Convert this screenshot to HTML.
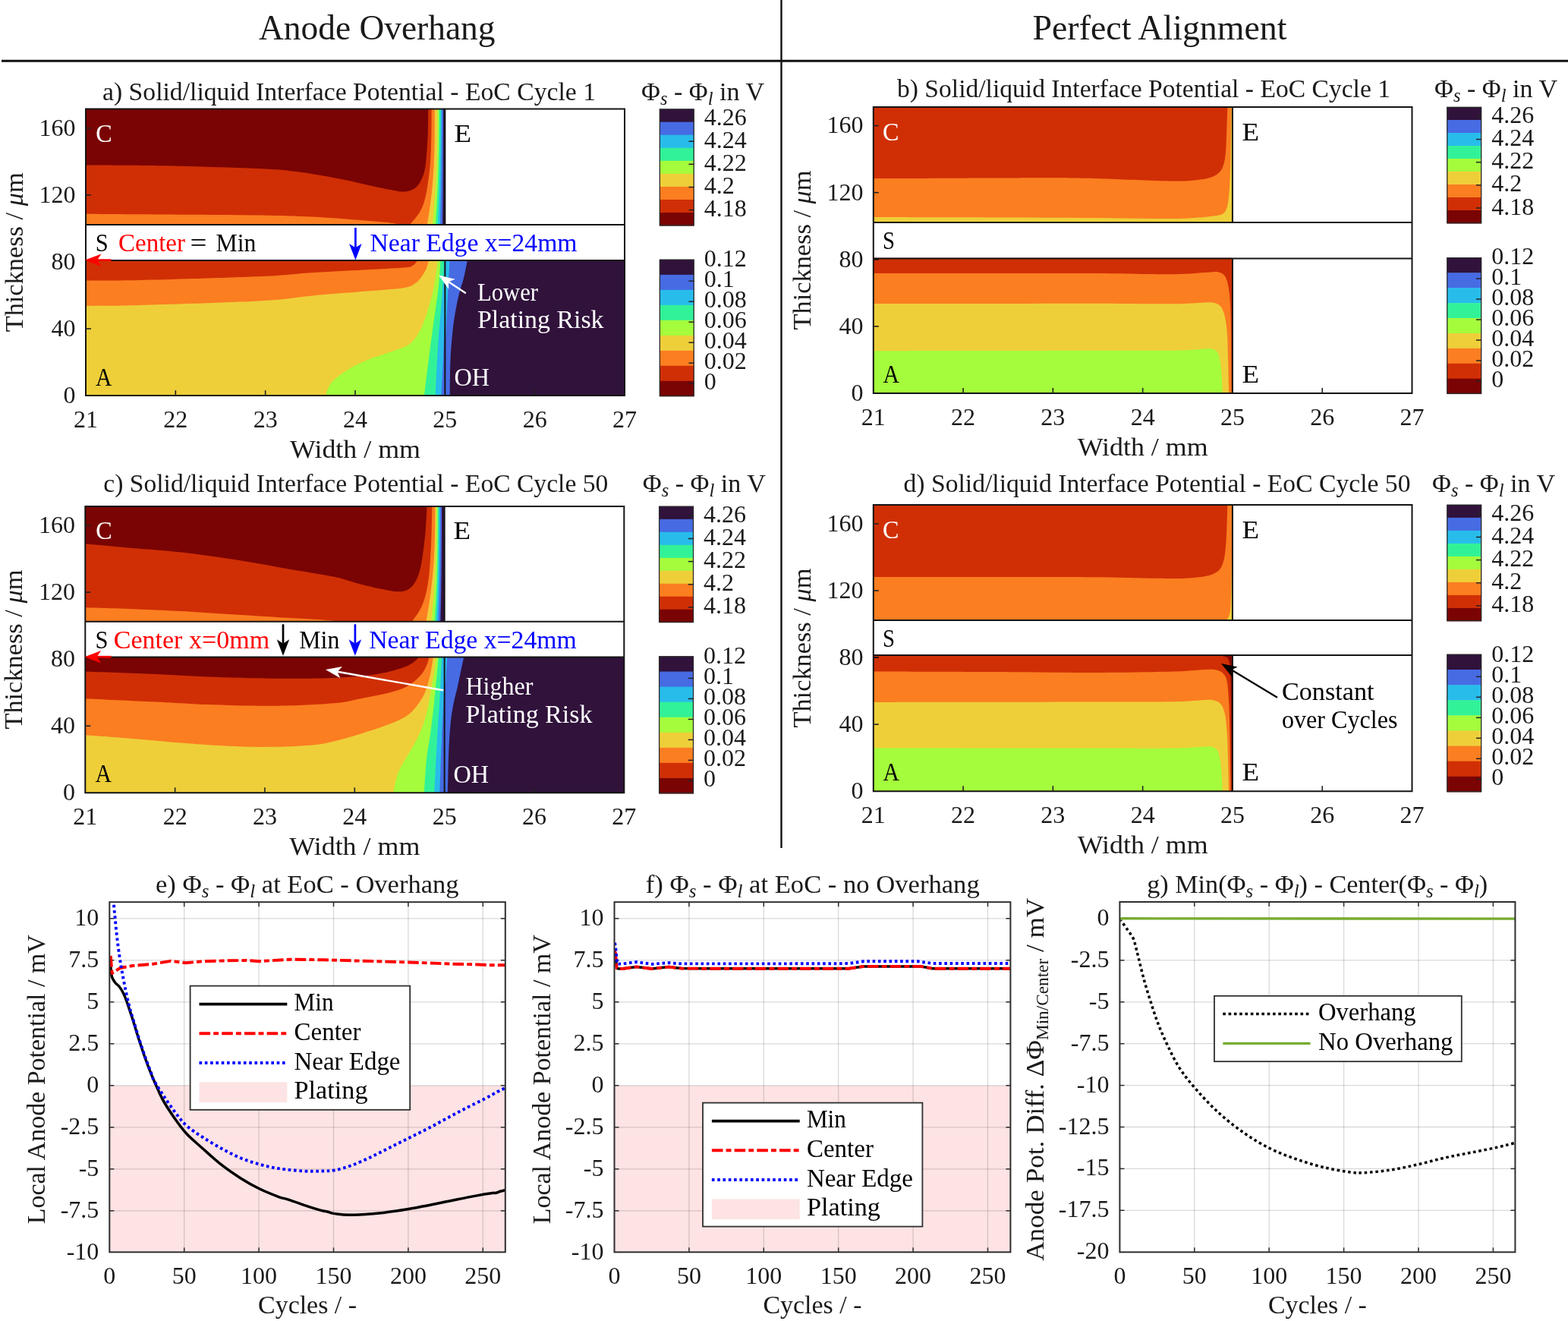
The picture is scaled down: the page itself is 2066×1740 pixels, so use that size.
<!DOCTYPE html>
<html lang="en"><head><meta charset="utf-8"><title>Anode Overhang vs Perfect Alignment</title>
<style>
html,body{margin:0;padding:0;background:#fff;}
body{width:2066px;height:1740px;overflow:hidden;}
svg{display:block;font-family:"Liberation Serif","DejaVu Serif",serif;}
text{white-space:pre;}
</style></head><body>
<svg width="2066" height="1740" viewBox="0 0 2066 1740">
<rect width="2066" height="1740" fill="#ffffff"/>
<text x="341" y="52" font-size="46" textLength="311.5" lengthAdjust="spacingAndGlyphs" fill="#1a1a1a">Anode Overhang</text>
<text x="1360.5" y="52" font-size="46" textLength="335" lengthAdjust="spacingAndGlyphs" fill="#1a1a1a">Perfect Alignment</text>
<line x1="2" y1="80.3" x2="2066" y2="80.3" stroke="#111" stroke-width="3.0"/>
<line x1="1029.5" y1="0" x2="1029.5" y2="1117" stroke="#111" stroke-width="2.4"/>
<clipPath id="ca1"><rect x="113.00" y="143.60" width="473.20" height="152.50"/></clipPath>
<clipPath id="ca2"><rect x="113.00" y="342.90" width="710.00" height="178.20"/></clipPath>
<g clip-path="url(#ca1)">
<rect x="113.00" y="143.60" width="473.20" height="152.50" fill="#7a0403"/>
<path d="M111.0,217.5C128.6,217.6 178.5,217.6 216.7,218.3C254.9,219.1 310.7,220.7 340.0,222.0C369.3,223.3 374.9,224.1 392.3,226.3C409.7,228.5 427.1,231.7 444.5,235.0C461.9,238.3 484.2,243.7 496.8,246.4C509.4,249.1 514.4,250.0 520.0,251.0C525.6,252.0 527.2,252.5 530.3,252.6C533.4,252.7 535.7,252.5 538.6,251.6C541.5,250.7 545.3,249.1 547.9,246.9C550.5,244.8 552.1,242.7 554.1,238.7C556.1,234.7 558.3,230.8 559.8,223.0C561.3,215.2 562.2,201.7 562.9,192.0C563.6,182.3 563.8,173.4 564.0,165.0C564.2,156.6 564.2,145.5 564.3,141.6L588.2,141.6L588.2,298.1L111.0,298.1Z" fill="#d02f05"/>
<path d="M111.0,281.7C128.5,281.8 177.8,282.2 216.0,282.5C254.2,282.8 307.7,283.1 340.0,283.6C372.3,284.1 389.4,284.7 409.7,285.6C430.0,286.5 444.6,287.7 462.0,289.0C479.4,290.3 501.7,291.9 514.0,293.4C526.3,294.9 532.3,297.3 536.0,298.1L111.0,298.1Z" fill="#fb7e21"/>
<path d="M538.0,298.1C538.9,297.1 541.7,294.0 543.5,291.8C545.3,289.6 547.2,287.7 549.0,285.2C550.8,282.7 552.6,280.4 554.3,277.0C556.0,273.6 557.8,270.0 559.3,264.5C560.8,259.0 562.2,252.4 563.5,243.8C564.8,235.2 566.3,223.4 567.1,212.8C567.9,202.2 568.0,191.9 568.3,180.0C568.6,168.1 568.6,148.0 568.7,141.6L588.2,141.6L588.2,298.1Z" fill="#fb7e21"/>
<path d="M562.4,298.1C562.8,295.6 564.1,288.0 564.8,283.4C565.5,278.8 566.2,274.9 566.8,270.7C567.4,266.4 567.9,262.2 568.4,258.0C568.9,253.7 569.3,249.5 569.7,245.3C570.1,241.0 570.4,236.8 570.7,232.6C571.0,228.3 571.3,224.1 571.5,219.9C571.7,215.6 571.9,211.4 572.0,207.1C572.2,202.9 572.3,198.7 572.4,194.4C572.5,190.2 572.6,186.0 572.6,181.7C572.7,177.5 572.7,173.3 572.8,169.0C572.8,164.8 572.8,160.9 572.8,156.3C572.8,151.7 572.8,144.1 572.8,141.6L588.2,141.6L588.2,298.1Z" fill="#eecf3a"/>
<path d="M569.7,298.1C569.9,295.6 570.6,288.0 571.1,283.4C571.5,278.8 571.9,274.9 572.2,270.7C572.6,266.4 572.9,262.2 573.2,258.0C573.5,253.7 573.8,249.5 574.1,245.3C574.3,241.0 574.5,236.8 574.8,232.6C575.0,228.3 575.1,224.1 575.3,219.9C575.5,215.6 575.6,211.4 575.7,207.1C575.8,202.9 575.9,198.7 576.0,194.4C576.1,190.2 576.2,186.0 576.2,181.7C576.3,177.5 576.3,173.3 576.3,169.0C576.4,164.8 576.4,160.9 576.4,156.3C576.4,151.7 576.4,144.1 576.4,141.6L588.2,141.6L588.2,298.1Z" fill="#a4fc3c"/>
<path d="M573.8,298.1C573.9,295.6 574.4,288.0 574.7,283.4C575.0,278.8 575.2,274.9 575.5,270.7C575.7,266.4 575.9,262.2 576.1,258.0C576.4,253.7 576.5,249.5 576.7,245.3C576.9,241.0 577.1,236.8 577.2,232.6C577.4,228.3 577.5,224.1 577.6,219.9C577.7,215.6 577.8,211.4 577.9,207.1C578.0,202.9 578.1,198.7 578.2,194.4C578.2,190.2 578.3,186.0 578.3,181.7C578.4,177.5 578.4,173.3 578.4,169.0C578.5,164.8 578.5,160.9 578.5,156.3C578.5,151.7 578.5,144.1 578.5,141.6L588.2,141.6L588.2,298.1Z" fill="#32f298"/>
<path d="M576.9,298.1C577.0,295.6 577.3,288.0 577.5,283.4C577.7,278.8 577.9,274.9 578.1,270.7C578.3,266.4 578.4,262.2 578.6,258.0C578.7,253.7 578.9,249.5 579.0,245.3C579.2,241.0 579.3,236.8 579.4,232.6C579.5,228.3 579.6,224.1 579.7,219.9C579.8,215.6 579.9,211.4 580.0,207.1C580.1,202.9 580.1,198.7 580.2,194.4C580.2,190.2 580.3,186.0 580.3,181.7C580.4,177.5 580.4,173.3 580.4,169.0C580.5,164.8 580.5,160.9 580.5,156.3C580.5,151.7 580.5,144.1 580.5,141.6L588.2,141.6L588.2,298.1Z" fill="#28bceb"/>
<path d="M580.0,298.1C580.1,295.6 580.2,288.0 580.3,283.4C580.4,278.8 580.5,274.9 580.6,270.7C580.7,266.4 580.8,262.2 580.9,258.0C581.0,253.7 581.1,249.5 581.2,245.3C581.2,241.0 581.3,236.8 581.4,232.6C581.5,228.3 581.5,224.1 581.6,219.9C581.6,215.6 581.7,211.4 581.7,207.1C581.8,202.9 581.8,198.7 581.9,194.4C581.9,190.2 581.9,186.0 582.0,181.7C582.0,177.5 582.0,173.3 582.0,169.0C582.1,164.8 582.1,160.9 582.1,156.3C582.1,151.7 582.1,144.1 582.1,141.6L588.2,141.6L588.2,298.1Z" fill="#466be3"/>
<path d="M583.1,298.1C583.1,295.6 583.2,288.0 583.2,283.4C583.3,278.8 583.3,274.9 583.4,270.7C583.4,266.4 583.5,262.2 583.5,258.0C583.5,253.7 583.6,249.5 583.6,245.3C583.6,241.0 583.7,236.8 583.7,232.6C583.7,228.3 583.8,224.1 583.8,219.9C583.8,215.6 583.8,211.4 583.8,207.1C583.9,202.9 583.9,198.7 583.9,194.4C583.9,190.2 583.9,186.0 583.9,181.7C584.0,177.5 584.0,173.3 584.0,169.0C584.0,164.8 584.0,160.9 584.0,156.3C584.0,151.7 584.0,144.1 584.0,141.6L588.2,141.6L588.2,298.1Z" fill="#30123b"/>
</g>
<g clip-path="url(#ca2)">
<rect x="113.00" y="342.90" width="473.20" height="178.20" fill="#d02f05"/>
<rect x="586.20" y="342.90" width="236.80" height="178.20" fill="#30123b"/>
<path d="M111.0,369.5C123.2,369.4 145.2,369.9 184.0,369.0C222.8,368.1 306.4,365.6 344.0,364.0C381.6,362.4 387.1,360.6 409.7,359.2C432.3,357.8 459.1,356.5 479.4,355.4C499.7,354.3 521.0,353.6 531.7,352.6C542.5,351.7 540.5,351.6 543.9,349.7C547.3,347.8 550.6,342.4 552.0,340.9L587.2,340.9L587.2,523.1L111.0,523.1Z" fill="#fb7e21"/>
<path d="M111.0,403.0C123.2,402.9 145.2,403.2 184.0,402.1C222.8,401.0 306.4,398.3 344.0,396.2C381.6,394.1 387.1,391.8 409.7,389.7C432.3,387.6 459.1,385.6 479.4,383.8C499.7,382.1 520.5,380.9 531.7,379.2C542.9,377.5 542.5,376.1 546.5,373.6C550.5,371.2 553.0,367.8 555.5,364.5C558.0,361.2 559.8,357.9 561.5,354.0C563.2,350.1 565.1,343.1 565.8,340.9L587.2,340.9L587.2,523.1L111.0,523.1Z" fill="#eecf3a"/>
<path d="M428.0,523.1C429.6,519.8 431.9,509.4 437.6,503.0C443.3,496.6 453.6,489.8 462.0,484.7C470.4,479.6 479.4,476.0 488.1,472.5C496.8,469.0 506.1,466.7 514.2,463.8C522.3,460.9 531.1,458.6 536.9,455.1C542.7,451.6 545.6,447.8 549.1,442.9C552.6,438.0 555.2,431.9 557.8,425.5C560.4,419.1 562.5,412.4 564.8,404.5C567.1,396.6 569.7,389.0 571.7,378.4C573.7,367.8 576.1,347.1 577.0,340.9L587.2,340.9L587.2,523.1Z" fill="#a4fc3c"/>
<path d="M558.7,523.1C559.7,515.0 562.6,491.1 564.8,474.2C567.0,457.3 569.5,438.0 571.7,422.0C573.9,406.0 576.3,391.9 577.8,378.4C579.3,364.9 580.1,347.1 580.6,340.9L587.2,340.9L587.2,523.1Z" fill="#32f298"/>
<path d="M573.5,523.1C574.1,512.1 575.7,476.6 577.0,456.8C578.3,437.0 580.1,419.0 581.3,404.5C582.4,390.0 583.3,380.3 583.9,369.7C584.5,359.1 584.8,345.7 585.0,340.9L587.2,340.9L587.2,523.1Z" fill="#28bceb"/>
<path d="M581.3,523.1C581.7,514.9 583.2,489.5 583.9,474.0C584.6,458.5 585.2,437.3 585.5,430.0L587.2,430.0L587.2,523.1Z" fill="#466be3"/>
<path d="M616.2,340.9C615.3,345.1 612.9,358.5 611.0,366.2C609.1,373.9 606.8,379.2 604.9,387.1C603.0,395.0 601.1,404.6 599.6,413.3C598.1,422.0 597.1,429.2 596.1,439.4C595.1,449.5 594.1,460.2 593.5,474.2C592.9,488.1 592.8,515.0 592.7,523.1L586.2,523.1L586.2,340.9Z" fill="#466be3"/>
<path d="M592.7,340.9C592.3,347.4 591.2,366.8 590.5,380.0C589.8,393.2 589.0,408.3 588.5,420.0C588.0,431.7 587.4,445.0 587.2,450.0L586.2,450.0L586.2,340.9Z" fill="#28bceb"/>
</g>
<clipPath id="cc1"><rect x="112.30" y="666.90" width="473.30" height="151.80"/></clipPath>
<clipPath id="cc2"><rect x="112.30" y="865.50" width="710.00" height="178.80"/></clipPath>
<g clip-path="url(#cc1)">
<rect x="112.30" y="666.90" width="473.30" height="151.80" fill="#7a0403"/>
<path d="M110.3,716.0C120.2,716.9 148.2,719.5 169.7,721.4C191.2,723.3 216.2,724.9 239.4,727.5C262.6,730.1 285.9,733.5 309.1,737.1C332.3,740.7 357.0,745.5 378.8,749.3C400.6,753.1 424.0,756.4 440.0,759.8C456.0,763.1 463.2,766.5 474.8,769.4C486.4,772.3 501.0,775.6 509.7,777.2C518.4,778.9 522.2,779.6 527.1,779.3C532.0,779.0 535.8,777.9 539.3,775.5C542.8,773.1 545.5,769.6 548.0,765.0C550.5,760.4 552.4,755.1 554.1,747.6C555.9,740.1 557.3,728.7 558.5,719.7C559.7,710.7 560.4,702.7 561.1,693.6C561.8,684.5 562.4,669.7 562.6,664.9L587.6,664.9L587.6,820.7L110.3,820.7Z" fill="#d02f05"/>
<path d="M110.3,800.2C120.2,800.5 148.2,801.1 169.7,801.9C191.2,802.7 216.2,803.9 239.4,805.1C262.6,806.4 285.9,808.0 309.1,809.4C332.3,810.8 358.5,812.5 378.8,813.8C399.1,815.0 417.1,815.8 431.0,816.9C444.9,818.0 456.8,819.7 462.0,820.2L110.3,820.7Z" fill="#fb7e21"/>
<path d="M541.5,820.7C543.5,817.8 550.2,809.1 553.3,803.3C556.4,797.5 558.3,792.6 560.2,785.9C562.1,779.2 563.5,771.4 564.6,763.3C565.7,755.2 566.2,747.3 566.9,737.1C567.6,726.9 568.2,714.3 568.6,702.3C569.0,690.3 569.3,671.1 569.4,664.9L587.6,664.9L587.6,820.7Z" fill="#fb7e21"/>
<path d="M561.1,820.7C561.5,818.3 562.8,810.6 563.6,806.1C564.3,801.5 565.0,797.6 565.7,793.4C566.4,789.2 567.0,785.0 567.5,780.8C568.1,776.5 568.6,772.3 569.0,768.1C569.5,763.9 569.9,759.7 570.3,755.5C570.7,751.2 571.0,747.0 571.3,742.8C571.6,738.6 571.8,734.4 572.0,730.1C572.3,725.9 572.4,721.7 572.6,717.5C572.8,713.3 572.9,709.1 573.0,704.9C573.1,700.6 573.1,696.4 573.2,692.2C573.2,688.0 573.3,684.1 573.3,679.5C573.3,675.0 573.3,667.3 573.3,664.9L587.6,664.9L587.6,820.7Z" fill="#eecf3a"/>
<path d="M568.1,820.7C568.3,818.3 569.1,810.6 569.5,806.1C569.9,801.5 570.3,797.6 570.7,793.4C571.1,789.2 571.4,785.0 571.7,780.8C572.0,776.5 572.3,772.3 572.6,768.1C572.9,763.9 573.1,759.7 573.3,755.5C573.5,751.2 573.7,747.0 573.9,742.8C574.0,738.6 574.2,734.4 574.3,730.1C574.4,725.9 574.5,721.7 574.6,717.5C574.7,713.3 574.8,709.1 574.8,704.9C574.9,700.6 574.9,696.4 574.9,692.2C575.0,688.0 575.0,684.1 575.0,679.5C575.0,675.0 575.0,667.3 575.0,664.9L587.6,664.9L587.6,820.7Z" fill="#a4fc3c"/>
<path d="M572.4,820.7C572.5,818.3 573.0,810.6 573.3,806.1C573.6,801.5 573.8,797.6 574.1,793.4C574.3,789.2 574.5,785.0 574.7,780.8C574.9,776.5 575.1,772.3 575.3,768.1C575.4,763.9 575.6,759.7 575.7,755.5C575.9,751.2 576.0,747.0 576.1,742.8C576.2,738.6 576.3,734.4 576.3,730.1C576.4,725.9 576.5,721.7 576.5,717.5C576.6,713.3 576.6,709.1 576.7,704.9C576.7,700.6 576.7,696.4 576.8,692.2C576.8,688.0 576.8,684.1 576.8,679.5C576.8,675.0 576.8,667.3 576.8,664.9L587.6,664.9L587.6,820.7Z" fill="#32f298"/>
<path d="M575.0,820.7C575.1,818.3 575.4,810.6 575.6,806.1C575.8,801.5 576.0,797.6 576.2,793.4C576.4,789.2 576.5,785.0 576.7,780.8C576.8,776.5 577.0,772.3 577.1,768.1C577.2,763.9 577.3,759.7 577.4,755.5C577.5,751.2 577.6,747.0 577.7,742.8C577.7,738.6 577.8,734.4 577.9,730.1C577.9,725.9 578.0,721.7 578.0,717.5C578.1,713.3 578.1,709.1 578.1,704.9C578.1,700.6 578.2,696.4 578.2,692.2C578.2,688.0 578.2,684.1 578.2,679.5C578.2,675.0 578.2,667.3 578.2,664.9L587.6,664.9L587.6,820.7Z" fill="#28bceb"/>
<path d="M577.3,820.7C577.4,818.3 577.7,810.6 577.8,806.1C578.0,801.5 578.1,797.6 578.3,793.4C578.4,789.2 578.6,785.0 578.7,780.8C578.8,776.5 578.9,772.3 579.0,768.1C579.1,763.9 579.2,759.7 579.3,755.5C579.3,751.2 579.4,747.0 579.5,742.8C579.5,738.6 579.6,734.4 579.6,730.1C579.7,725.9 579.7,721.7 579.8,717.5C579.8,713.3 579.8,709.1 579.8,704.9C579.9,700.6 579.9,696.4 579.9,692.2C579.9,688.0 579.9,684.1 579.9,679.5C579.9,675.0 579.9,667.3 579.9,664.9L587.6,664.9L587.6,820.7Z" fill="#466be3"/>
<path d="M580.3,820.7C580.4,818.3 580.5,810.6 580.6,806.1C580.8,801.5 580.8,797.6 580.9,793.4C581.0,789.2 581.1,785.0 581.2,780.8C581.3,776.5 581.3,772.3 581.4,768.1C581.5,763.9 581.5,759.7 581.6,755.5C581.6,751.2 581.7,747.0 581.7,742.8C581.8,738.6 581.8,734.4 581.8,730.1C581.9,725.9 581.9,721.7 581.9,717.5C581.9,713.3 581.9,709.1 582.0,704.9C582.0,700.6 582.0,696.4 582.0,692.2C582.0,688.0 582.0,684.1 582.0,679.5C582.0,675.0 582.0,667.3 582.0,664.9L587.6,664.9L587.6,820.7Z" fill="#30123b"/>
</g>
<g clip-path="url(#cc2)">
<rect x="112.30" y="865.50" width="473.30" height="178.80" fill="#7a0403"/>
<rect x="585.60" y="865.50" width="236.70" height="178.80" fill="#30123b"/>
<path d="M110.3,884.5C126.0,885.1 177.2,886.8 204.5,888.0C231.8,889.2 248.0,890.5 274.2,891.5C300.3,892.5 335.3,893.4 361.4,893.7C387.5,894.0 412.1,893.7 431.0,893.2C449.9,892.7 461.7,891.9 474.8,890.6C487.9,889.3 499.5,887.6 509.7,885.4C519.9,883.2 529.4,880.1 535.8,877.5C542.2,874.9 545.2,872.0 548.0,869.7C550.8,867.4 551.8,864.5 552.5,863.5L586.6,863.5L586.6,1046.3L110.3,1046.3Z" fill="#d02f05"/>
<path d="M110.3,920.2C126.0,920.9 177.2,923.3 204.5,924.6C231.8,925.9 248.0,927.2 274.2,928.1C300.3,929.0 333.8,930.1 361.4,929.8C389.0,929.5 421.1,927.9 440.0,926.3C458.9,924.7 463.2,922.4 474.8,920.2C486.4,918.0 499.5,915.9 509.7,913.3C519.9,910.7 528.5,908.3 535.8,904.5C543.1,900.7 548.9,895.2 553.3,890.6C557.7,886.0 559.9,881.2 562.0,876.7C564.1,872.2 565.3,865.7 566.0,863.5L586.6,863.5L586.6,1046.3L110.3,1046.3Z" fill="#fb7e21"/>
<path d="M110.3,968.1C120.2,968.8 148.2,970.8 169.7,972.5C191.2,974.2 216.2,976.9 239.4,978.6C262.6,980.4 288.8,982.1 309.1,983.0C329.4,983.9 344.0,984.1 361.4,983.8C378.8,983.5 400.5,982.4 413.6,981.2C426.7,980.0 429.8,978.9 440.0,976.5C450.2,974.1 463.2,970.3 474.8,966.7C486.4,963.1 499.5,959.1 509.7,955.1C519.9,951.1 529.1,947.3 535.8,942.9C542.5,938.5 545.7,934.1 549.8,928.9C553.9,923.7 557.3,918.5 560.2,911.5C563.1,904.5 565.4,895.1 567.2,887.1C569.0,879.1 570.4,867.4 571.0,863.5L586.6,863.5L586.6,1046.3L110.3,1046.3Z" fill="#eecf3a"/>
<path d="M518.0,1046.3C518.6,1043.0 520.1,1032.7 521.9,1026.5C523.7,1020.3 525.7,1015.5 528.9,1009.1C532.1,1002.7 537.0,995.5 541.1,988.2C545.2,980.9 549.8,973.6 553.3,965.5C556.8,957.4 559.4,949.6 562.0,939.4C564.6,929.2 566.7,917.1 568.9,904.5C571.1,891.9 574.2,870.3 575.2,863.5L586.6,863.5L586.6,1046.3Z" fill="#a4fc3c"/>
<path d="M558.6,1046.3C559.2,1038.6 560.6,1013.9 562.0,1000.4C563.4,986.9 565.5,978.6 567.2,965.5C568.9,952.4 570.6,939.0 572.4,922.0C574.2,905.0 577.1,873.2 578.0,863.5L586.6,863.5L586.6,1046.3Z" fill="#32f298"/>
<path d="M572.2,1046.3C572.8,1034.3 574.7,994.9 575.9,974.2C577.1,953.5 578.3,940.5 579.4,922.0C580.5,903.5 581.7,873.2 582.2,863.5L586.6,863.5L586.6,1046.3Z" fill="#28bceb"/>
<path d="M579.2,1046.3C579.7,1034.3 581.1,995.2 582.0,974.2C582.9,953.2 584.2,929.0 584.6,920.0L586.6,920.0L586.6,1046.3Z" fill="#466be3"/>
<path d="M611.6,863.5C610.9,866.9 608.8,876.8 607.3,883.6C605.8,890.4 604.6,896.6 602.9,904.5C601.1,912.4 598.4,922.0 596.8,930.7C595.2,939.4 594.2,946.6 593.3,956.8C592.4,967.0 591.8,976.8 591.2,991.7C590.6,1006.6 590.0,1037.2 589.8,1046.3L585.6,1046.3L585.6,863.5Z" fill="#466be3"/>
<path d="M589.5,863.5C589.3,866.2 588.7,873.9 588.3,880.0C587.9,886.1 587.4,896.7 587.2,900.0L585.6,900.0L585.6,863.5Z" fill="#28bceb"/>
</g>
<clipPath id="cb1"><rect x="1150.80" y="141.00" width="473.00" height="152.00"/></clipPath>
<clipPath id="cb2"><rect x="1150.80" y="339.60" width="473.00" height="178.30"/></clipPath>
<g clip-path="url(#cb1)">
<rect x="1150.80" y="141.00" width="473.00" height="152.00" fill="#d02f05"/>
<path d="M1148.8,235.0C1174.0,234.9 1261.0,234.7 1300.0,234.6C1339.0,234.5 1359.7,234.2 1383.0,234.3C1406.3,234.4 1413.1,234.3 1440.0,235.0C1466.9,235.7 1521.3,238.2 1544.5,238.5C1567.7,238.8 1570.7,237.6 1579.4,236.7C1588.1,235.8 1592.2,235.0 1596.8,233.3C1601.4,231.6 1604.7,229.2 1607.3,226.3C1609.9,223.4 1611.2,220.5 1612.5,215.8C1613.8,211.2 1614.5,205.7 1615.1,198.4C1615.7,191.2 1615.9,182.2 1616.3,172.3C1616.7,162.4 1617.2,144.6 1617.4,139.0L1625.8,139.0L1625.8,295.0L1148.8,295.0Z" fill="#fb7e21"/>
<path d="M1148.8,286.0C1174.0,286.1 1251.5,286.2 1300.0,286.4C1348.5,286.5 1399.2,286.6 1440.0,286.9C1480.8,287.2 1521.3,288.2 1544.5,288.1C1567.7,288.1 1570.3,287.2 1579.0,286.6C1587.7,286.0 1591.5,285.5 1596.8,284.7C1602.1,283.9 1607.6,283.6 1610.8,282.0C1614.0,280.4 1614.7,278.3 1616.0,275.1C1617.3,271.9 1617.9,268.4 1618.6,262.9C1619.3,257.4 1619.8,251.3 1620.3,242.0C1620.8,232.7 1621.2,224.3 1621.6,207.1C1622.0,189.9 1622.4,150.3 1622.6,139.0L1625.8,139.0L1625.8,295.0L1148.8,295.0Z" fill="#eecf3a"/>
</g>
<g clip-path="url(#cb2)">
<rect x="1150.80" y="339.40" width="473.00" height="178.50" fill="#d02f05"/>
<path d="M1148.8,360.0C1174.0,360.0 1251.5,360.0 1300.0,360.0C1348.5,360.0 1399.2,359.9 1440.0,360.1C1480.8,360.3 1519.8,361.5 1544.5,361.3C1569.2,361.1 1577.8,359.6 1588.0,359.1C1598.2,358.6 1601.1,357.6 1605.5,358.4C1609.9,359.2 1612.0,360.8 1614.2,364.0C1616.4,367.2 1617.5,372.1 1618.6,377.9C1619.7,383.7 1620.3,388.6 1620.9,398.8C1621.5,409.1 1621.8,419.2 1622.1,439.4C1622.4,459.6 1622.6,506.5 1622.7,519.9L1148.8,519.9Z" fill="#fb7e21"/>
<path d="M1148.8,400.0C1174.0,400.0 1251.5,400.1 1300.0,400.0C1348.5,399.9 1399.2,399.7 1440.0,399.7C1480.8,399.7 1519.8,400.4 1544.5,400.2C1569.2,400.0 1578.7,398.6 1588.0,398.4C1597.3,398.2 1596.8,398.0 1600.3,399.0C1603.8,400.0 1606.7,401.2 1609.0,404.5C1611.3,407.8 1612.9,412.7 1614.2,418.5C1615.5,424.3 1616.2,430.1 1616.9,439.4C1617.6,448.7 1617.7,460.8 1618.1,474.2C1618.5,487.6 1618.9,512.3 1619.1,519.9L1148.8,519.9Z" fill="#eecf3a"/>
<path d="M1148.8,462.3C1174.0,462.2 1251.5,462.1 1300.0,462.0C1348.5,461.9 1399.2,461.8 1440.0,461.7C1480.8,461.6 1519.8,462.1 1544.5,461.7C1569.2,461.3 1579.3,459.8 1588.0,459.4C1596.7,459.0 1594.2,458.7 1596.8,459.4C1599.4,460.1 1602.0,461.3 1603.8,463.8C1605.5,466.3 1606.4,469.6 1607.3,474.2C1608.2,478.8 1608.8,484.1 1609.4,491.7C1610.0,499.3 1610.6,515.2 1610.8,519.9L1148.8,519.9Z" fill="#a4fc3c"/>
</g>
<clipPath id="cd1"><rect x="1150.80" y="664.90" width="473.00" height="152.00"/></clipPath>
<clipPath id="cd2"><rect x="1150.80" y="862.10" width="473.00" height="180.10"/></clipPath>
<g clip-path="url(#cd1)">
<rect x="1150.80" y="664.90" width="473.00" height="152.00" fill="#d02f05"/>
<path d="M1148.8,760.0C1174.0,760.0 1251.5,760.0 1300.0,760.0C1348.5,760.0 1399.2,759.9 1440.0,760.2C1480.8,760.5 1521.3,762.0 1544.5,762.0C1567.7,762.0 1570.7,761.1 1579.4,760.2C1588.1,759.3 1592.2,758.4 1596.8,756.7C1601.4,755.0 1604.7,753.0 1607.3,749.8C1609.9,746.6 1611.2,742.8 1612.5,737.6C1613.8,732.4 1614.4,726.0 1615.1,718.4C1615.8,710.8 1616.1,701.5 1616.5,692.3C1616.9,683.0 1617.2,667.8 1617.4,662.9L1625.8,662.9L1625.8,818.9L1148.8,818.9Z" fill="#fb7e21"/>
<path d="M1614.5,818.9C1615.3,817.5 1618.3,814.5 1619.5,810.8C1620.7,807.1 1621.1,804.9 1621.6,796.8C1622.1,788.7 1622.3,774.8 1622.6,762.0C1622.9,749.2 1623.1,727.0 1623.2,720.0L1625.8,720.0L1625.8,818.9Z" fill="#eecf3a"/>
</g>
<g clip-path="url(#cd2)">
<rect x="1150.80" y="861.90" width="473.00" height="180.30" fill="#d02f05"/>
<path d="M1617.0,865.9C1617.6,867.4 1619.7,869.3 1620.5,875.0C1621.3,880.7 1621.3,885.8 1621.6,900.0C1621.9,914.2 1622.1,936.0 1622.3,960.0C1622.5,984.0 1622.8,1030.2 1622.9,1044.2L1625.8,1044.2L1625.8,860.9L1600.0,860.9Z" fill="#7a0403" opacity="0.85"/>
<path d="M1148.8,884.6C1174.0,884.7 1251.5,884.8 1300.0,885.0C1348.5,885.2 1399.2,886.0 1440.0,885.9C1480.8,885.8 1519.8,885.2 1544.5,884.5C1569.2,883.8 1578.1,882.2 1588.0,881.9C1597.9,881.6 1599.7,881.7 1603.8,882.7C1607.9,883.7 1610.3,885.4 1612.5,888.0C1614.7,890.6 1615.8,892.3 1616.9,898.4C1618.0,904.5 1618.5,914.3 1619.1,924.5C1619.7,934.7 1619.9,939.4 1620.3,959.4C1620.7,979.4 1621.4,1030.1 1621.6,1044.2L1148.8,1044.2Z" fill="#fb7e21"/>
<path d="M1148.8,925.0C1174.0,925.0 1251.5,924.9 1300.0,924.8C1348.5,924.7 1399.2,924.6 1440.0,924.5C1480.8,924.4 1519.8,924.6 1544.5,924.2C1569.2,923.8 1578.7,922.1 1588.0,921.9C1597.3,921.7 1596.8,921.8 1600.3,922.8C1603.8,923.8 1606.7,924.8 1609.0,928.0C1611.3,931.2 1612.9,935.3 1614.2,942.0C1615.5,948.7 1616.2,957.9 1616.9,968.1C1617.6,978.3 1617.7,990.3 1618.1,1003.0C1618.5,1015.7 1618.9,1037.3 1619.1,1044.2L1148.8,1044.2Z" fill="#eecf3a"/>
<path d="M1148.8,985.3C1174.0,985.3 1251.5,985.4 1300.0,985.4C1348.5,985.4 1399.2,985.5 1440.0,985.5C1480.8,985.5 1519.8,985.9 1544.5,985.5C1569.2,985.1 1579.3,983.7 1588.0,983.4C1596.7,983.1 1594.2,983.0 1596.8,983.8C1599.4,984.6 1602.0,985.5 1603.8,988.1C1605.5,990.7 1606.4,994.7 1607.3,999.5C1608.2,1004.3 1608.8,1009.4 1609.4,1016.9C1610.0,1024.3 1610.6,1039.7 1610.8,1044.2L1148.8,1044.2Z" fill="#a4fc3c"/>
</g>
<path d="M113.0,143.6H823.0V521.1H113.0Z" fill="none" stroke="#141414" stroke-width="2.0"/>
<line x1="113.0" y1="296.1" x2="823.0" y2="296.1" stroke="#141414" stroke-width="2.0"/>
<line x1="113.0" y1="342.9" x2="823.0" y2="342.9" stroke="#141414" stroke-width="2.0"/>
<line x1="586.3333333333333" y1="143.6" x2="586.3333333333333" y2="296.1" stroke="#141414" stroke-width="2.0"/>
<line x1="586.3333333333333" y1="342.9" x2="586.3333333333333" y2="521.1" stroke="#141414" stroke-width="2.0"/>
<line x1="231.33333333333331" y1="521.1" x2="231.33333333333331" y2="514.1" stroke="#222" stroke-width="1.6"/>
<line x1="349.66666666666663" y1="521.1" x2="349.66666666666663" y2="514.1" stroke="#222" stroke-width="1.6"/>
<line x1="468.0" y1="521.1" x2="468.0" y2="514.1" stroke="#222" stroke-width="1.6"/>
<line x1="704.6666666666666" y1="521.1" x2="704.6666666666666" y2="514.1" stroke="#222" stroke-width="1.6"/>
<line x1="113.0" y1="433.02000000000004" x2="120.0" y2="433.02000000000004" stroke="#222" stroke-width="1.6"/>
<line x1="113.0" y1="256.86" x2="120.0" y2="256.86" stroke="#222" stroke-width="1.6"/>
<line x1="113.0" y1="168.78000000000003" x2="120.0" y2="168.78000000000003" stroke="#222" stroke-width="1.6"/>
<text x="113.0" y="562.7" font-size="32" text-anchor="middle" fill="#1a1a1a">21</text>
<text x="231.33333333333331" y="562.7" font-size="32" text-anchor="middle" fill="#1a1a1a">22</text>
<text x="349.66666666666663" y="562.7" font-size="32" text-anchor="middle" fill="#1a1a1a">23</text>
<text x="468.0" y="562.7" font-size="32" text-anchor="middle" fill="#1a1a1a">24</text>
<text x="586.3333333333333" y="562.7" font-size="32" text-anchor="middle" fill="#1a1a1a">25</text>
<text x="704.6666666666666" y="562.7" font-size="32" text-anchor="middle" fill="#1a1a1a">26</text>
<text x="823.0" y="562.7" font-size="32" text-anchor="middle" fill="#1a1a1a">27</text>
<text x="99.6" y="531.0" font-size="32" text-anchor="end" fill="#1a1a1a">0</text>
<text x="99.6" y="442.92" font-size="32" text-anchor="end" fill="#1a1a1a">40</text>
<text x="99.6" y="354.84000000000003" font-size="32" text-anchor="end" fill="#1a1a1a">80</text>
<text x="99.6" y="266.76" font-size="32" text-anchor="end" fill="#1a1a1a">120</text>
<text x="99.6" y="178.68000000000004" font-size="32" text-anchor="end" fill="#1a1a1a">160</text>
<text x="468.0" y="603.1" font-size="34" text-anchor="middle" textLength="172" lengthAdjust="spacingAndGlyphs" fill="#1a1a1a">Width / mm</text>
<text x="30.0" y="332.35" font-size="34" text-anchor="middle" textLength="210" lengthAdjust="spacingAndGlyphs" transform="rotate(-90 30.0 332.35)" fill="#1a1a1a">Thickness / <tspan font-style="italic">μ</tspan>m</text>
<text x="135" y="131.7" font-size="34" textLength="650" lengthAdjust="spacingAndGlyphs" fill="#1a1a1a">a) Solid/liquid Interface Potential - EoC Cycle 1</text>
<rect x="869.00" y="143.60" width="45.50" height="17.56" fill="#30123b"/>
<rect x="869.00" y="160.66" width="45.50" height="17.56" fill="#466be3"/>
<rect x="869.00" y="177.71" width="45.50" height="17.56" fill="#28bceb"/>
<rect x="869.00" y="194.77" width="45.50" height="17.56" fill="#32f298"/>
<rect x="869.00" y="211.82" width="45.50" height="17.56" fill="#a4fc3c"/>
<rect x="869.00" y="228.88" width="45.50" height="17.56" fill="#eecf3a"/>
<rect x="869.00" y="245.93" width="45.50" height="17.56" fill="#fb7e21"/>
<rect x="869.00" y="262.99" width="45.50" height="17.56" fill="#d02f05"/>
<rect x="869.00" y="280.04" width="45.50" height="17.56" fill="#7a0403"/>
<rect x="869.30" y="143.90" width="44.90" height="152.90" fill="none" stroke="#2a2a2a" stroke-width="1.3"/>
<rect x="869.00" y="341.90" width="45.50" height="20.49" fill="#30123b"/>
<rect x="869.00" y="361.89" width="45.50" height="20.49" fill="#466be3"/>
<rect x="869.00" y="381.88" width="45.50" height="20.49" fill="#28bceb"/>
<rect x="869.00" y="401.87" width="45.50" height="20.49" fill="#32f298"/>
<rect x="869.00" y="421.86" width="45.50" height="20.49" fill="#a4fc3c"/>
<rect x="869.00" y="441.84" width="45.50" height="20.49" fill="#eecf3a"/>
<rect x="869.00" y="461.83" width="45.50" height="20.49" fill="#fb7e21"/>
<rect x="869.00" y="481.82" width="45.50" height="20.49" fill="#d02f05"/>
<rect x="869.00" y="501.81" width="45.50" height="20.49" fill="#7a0403"/>
<rect x="869.30" y="342.20" width="44.90" height="179.30" fill="none" stroke="#2a2a2a" stroke-width="1.3"/>
<line x1="907.5" y1="276.6" x2="914.5" y2="276.6" stroke="#222" stroke-width="1.5"/>
<text x="927.8" y="285.1" font-size="32" fill="#1a1a1a">4.18</text>
<line x1="907.5" y1="246.45000000000002" x2="914.5" y2="246.45000000000002" stroke="#222" stroke-width="1.5"/>
<text x="927.8" y="254.95000000000002" font-size="32" fill="#1a1a1a">4.2</text>
<line x1="907.5" y1="216.3" x2="914.5" y2="216.3" stroke="#222" stroke-width="1.5"/>
<text x="927.8" y="224.8" font-size="32" fill="#1a1a1a">4.22</text>
<line x1="907.5" y1="186.15000000000003" x2="914.5" y2="186.15000000000003" stroke="#222" stroke-width="1.5"/>
<text x="927.8" y="194.65000000000003" font-size="32" fill="#1a1a1a">4.24</text>
<line x1="907.5" y1="156.00000000000003" x2="914.5" y2="156.00000000000003" stroke="#222" stroke-width="1.5"/>
<text x="927.8" y="164.50000000000003" font-size="32" fill="#1a1a1a">4.26</text>
<line x1="907.5" y1="505.20000000000005" x2="914.5" y2="505.20000000000005" stroke="#222" stroke-width="1.5"/>
<text x="927.8" y="513.0" font-size="32" fill="#1a1a1a">0</text>
<line x1="907.5" y1="478.20000000000005" x2="914.5" y2="478.20000000000005" stroke="#222" stroke-width="1.5"/>
<text x="927.8" y="486.00000000000006" font-size="32" fill="#1a1a1a">0.02</text>
<line x1="907.5" y1="451.20000000000005" x2="914.5" y2="451.20000000000005" stroke="#222" stroke-width="1.5"/>
<text x="927.8" y="459.00000000000006" font-size="32" fill="#1a1a1a">0.04</text>
<line x1="907.5" y1="424.20000000000005" x2="914.5" y2="424.20000000000005" stroke="#222" stroke-width="1.5"/>
<text x="927.8" y="432.00000000000006" font-size="32" fill="#1a1a1a">0.06</text>
<line x1="907.5" y1="397.20000000000005" x2="914.5" y2="397.20000000000005" stroke="#222" stroke-width="1.5"/>
<text x="927.8" y="405.00000000000006" font-size="32" fill="#1a1a1a">0.08</text>
<line x1="907.5" y1="370.20000000000005" x2="914.5" y2="370.20000000000005" stroke="#222" stroke-width="1.5"/>
<text x="927.8" y="378.00000000000006" font-size="32" fill="#1a1a1a">0.1</text>
<text x="927.8" y="351.00000000000006" font-size="32" fill="#1a1a1a">0.12</text>
<text x="845.0" y="131.7" font-size="34" textLength="162" lengthAdjust="spacingAndGlyphs" fill="#1a1a1a">Φ<tspan font-style="italic" font-size="24.5" dy="6.1">s</tspan><tspan dy="-6.1"> - Φ</tspan><tspan font-style="italic" font-size="24.5" dy="6.1">l</tspan><tspan dy="-6.1"> in V</tspan></text>
<path d="M1150.8,141.0H1860.5V517.9H1150.8Z" fill="none" stroke="#141414" stroke-width="2.0"/>
<line x1="1150.8" y1="293.0" x2="1860.5" y2="293.0" stroke="#141414" stroke-width="2.0"/>
<line x1="1150.8" y1="340.4" x2="1860.5" y2="340.4" stroke="#141414" stroke-width="2.0"/>
<line x1="1623.9333333333334" y1="141.0" x2="1623.9333333333334" y2="293.0" stroke="#141414" stroke-width="2.0"/>
<line x1="1623.9333333333334" y1="340.4" x2="1623.9333333333334" y2="517.9" stroke="#141414" stroke-width="2.0"/>
<line x1="1269.0833333333333" y1="517.9" x2="1269.0833333333333" y2="510.9" stroke="#222" stroke-width="1.6"/>
<line x1="1387.3666666666666" y1="517.9" x2="1387.3666666666666" y2="510.9" stroke="#222" stroke-width="1.6"/>
<line x1="1505.65" y1="517.9" x2="1505.65" y2="510.9" stroke="#222" stroke-width="1.6"/>
<line x1="1742.2166666666667" y1="517.9" x2="1742.2166666666667" y2="510.9" stroke="#222" stroke-width="1.6"/>
<line x1="1150.8" y1="429.82" x2="1157.8" y2="429.82" stroke="#222" stroke-width="1.6"/>
<line x1="1150.8" y1="253.65999999999997" x2="1157.8" y2="253.65999999999997" stroke="#222" stroke-width="1.6"/>
<line x1="1150.8" y1="165.57999999999998" x2="1157.8" y2="165.57999999999998" stroke="#222" stroke-width="1.6"/>
<line x1="1150.8" y1="341.74" x2="1157.8" y2="341.74" stroke="#111" stroke-width="1.8"/>
<text x="1150.8" y="559.5" font-size="32" text-anchor="middle" fill="#1a1a1a">21</text>
<text x="1269.0833333333333" y="559.5" font-size="32" text-anchor="middle" fill="#1a1a1a">22</text>
<text x="1387.3666666666666" y="559.5" font-size="32" text-anchor="middle" fill="#1a1a1a">23</text>
<text x="1505.65" y="559.5" font-size="32" text-anchor="middle" fill="#1a1a1a">24</text>
<text x="1623.9333333333334" y="559.5" font-size="32" text-anchor="middle" fill="#1a1a1a">25</text>
<text x="1742.2166666666667" y="559.5" font-size="32" text-anchor="middle" fill="#1a1a1a">26</text>
<text x="1860.5" y="559.5" font-size="32" text-anchor="middle" fill="#1a1a1a">27</text>
<text x="1137.3999999999999" y="527.8" font-size="32" text-anchor="end" fill="#1a1a1a">0</text>
<text x="1137.3999999999999" y="439.71999999999997" font-size="32" text-anchor="end" fill="#1a1a1a">40</text>
<text x="1137.3999999999999" y="351.64" font-size="32" text-anchor="end" fill="#1a1a1a">80</text>
<text x="1137.3999999999999" y="263.55999999999995" font-size="32" text-anchor="end" fill="#1a1a1a">120</text>
<text x="1137.3999999999999" y="175.48" font-size="32" text-anchor="end" fill="#1a1a1a">160</text>
<text x="1505.65" y="599.9" font-size="34" text-anchor="middle" textLength="172" lengthAdjust="spacingAndGlyphs" fill="#1a1a1a">Width / mm</text>
<text x="1067.8" y="329.45" font-size="34" text-anchor="middle" textLength="210" lengthAdjust="spacingAndGlyphs" transform="rotate(-90 1067.8 329.45)" fill="#1a1a1a">Thickness / <tspan font-style="italic">μ</tspan>m</text>
<text x="1182" y="128.0" font-size="34" textLength="650" lengthAdjust="spacingAndGlyphs" fill="#1a1a1a">b) Solid/liquid Interface Potential - EoC Cycle 1</text>
<rect x="1906.50" y="141.00" width="45.50" height="17.50" fill="#30123b"/>
<rect x="1906.50" y="158.00" width="45.50" height="17.50" fill="#466be3"/>
<rect x="1906.50" y="175.00" width="45.50" height="17.50" fill="#28bceb"/>
<rect x="1906.50" y="192.00" width="45.50" height="17.50" fill="#32f298"/>
<rect x="1906.50" y="209.00" width="45.50" height="17.50" fill="#a4fc3c"/>
<rect x="1906.50" y="226.00" width="45.50" height="17.50" fill="#eecf3a"/>
<rect x="1906.50" y="243.00" width="45.50" height="17.50" fill="#fb7e21"/>
<rect x="1906.50" y="260.00" width="45.50" height="17.50" fill="#d02f05"/>
<rect x="1906.50" y="277.00" width="45.50" height="17.50" fill="#7a0403"/>
<rect x="1906.80" y="141.30" width="44.90" height="152.40" fill="none" stroke="#2a2a2a" stroke-width="1.3"/>
<rect x="1906.50" y="339.40" width="45.50" height="20.41" fill="#30123b"/>
<rect x="1906.50" y="359.31" width="45.50" height="20.41" fill="#466be3"/>
<rect x="1906.50" y="379.22" width="45.50" height="20.41" fill="#28bceb"/>
<rect x="1906.50" y="399.13" width="45.50" height="20.41" fill="#32f298"/>
<rect x="1906.50" y="419.04" width="45.50" height="20.41" fill="#a4fc3c"/>
<rect x="1906.50" y="438.96" width="45.50" height="20.41" fill="#eecf3a"/>
<rect x="1906.50" y="458.87" width="45.50" height="20.41" fill="#fb7e21"/>
<rect x="1906.50" y="478.78" width="45.50" height="20.41" fill="#d02f05"/>
<rect x="1906.50" y="498.69" width="45.50" height="20.41" fill="#7a0403"/>
<rect x="1906.80" y="339.70" width="44.90" height="178.60" fill="none" stroke="#2a2a2a" stroke-width="1.3"/>
<line x1="1945.0" y1="274.0" x2="1952.0" y2="274.0" stroke="#222" stroke-width="1.5"/>
<text x="1965.3" y="282.5" font-size="32" fill="#1a1a1a">4.18</text>
<line x1="1945.0" y1="243.85" x2="1952.0" y2="243.85" stroke="#222" stroke-width="1.5"/>
<text x="1965.3" y="252.35" font-size="32" fill="#1a1a1a">4.2</text>
<line x1="1945.0" y1="213.7" x2="1952.0" y2="213.7" stroke="#222" stroke-width="1.5"/>
<text x="1965.3" y="222.2" font-size="32" fill="#1a1a1a">4.22</text>
<line x1="1945.0" y1="183.55" x2="1952.0" y2="183.55" stroke="#222" stroke-width="1.5"/>
<text x="1965.3" y="192.05" font-size="32" fill="#1a1a1a">4.24</text>
<line x1="1945.0" y1="153.4" x2="1952.0" y2="153.4" stroke="#222" stroke-width="1.5"/>
<text x="1965.3" y="161.9" font-size="32" fill="#1a1a1a">4.26</text>
<line x1="1945.0" y1="502.0" x2="1952.0" y2="502.0" stroke="#222" stroke-width="1.5"/>
<text x="1965.3" y="509.8" font-size="32" fill="#1a1a1a">0</text>
<line x1="1945.0" y1="475.0" x2="1952.0" y2="475.0" stroke="#222" stroke-width="1.5"/>
<text x="1965.3" y="482.8" font-size="32" fill="#1a1a1a">0.02</text>
<line x1="1945.0" y1="448.0" x2="1952.0" y2="448.0" stroke="#222" stroke-width="1.5"/>
<text x="1965.3" y="455.8" font-size="32" fill="#1a1a1a">0.04</text>
<line x1="1945.0" y1="421.0" x2="1952.0" y2="421.0" stroke="#222" stroke-width="1.5"/>
<text x="1965.3" y="428.8" font-size="32" fill="#1a1a1a">0.06</text>
<line x1="1945.0" y1="394.0" x2="1952.0" y2="394.0" stroke="#222" stroke-width="1.5"/>
<text x="1965.3" y="401.8" font-size="32" fill="#1a1a1a">0.08</text>
<line x1="1945.0" y1="367.0" x2="1952.0" y2="367.0" stroke="#222" stroke-width="1.5"/>
<text x="1965.3" y="374.8" font-size="32" fill="#1a1a1a">0.1</text>
<text x="1965.3" y="347.8" font-size="32" fill="#1a1a1a">0.12</text>
<text x="1890.0" y="128.0" font-size="34" textLength="162" lengthAdjust="spacingAndGlyphs" fill="#1a1a1a">Φ<tspan font-style="italic" font-size="24.5" dy="6.1">s</tspan><tspan dy="-6.1"> - Φ</tspan><tspan font-style="italic" font-size="24.5" dy="6.1">l</tspan><tspan dy="-6.1"> in V</tspan></text>
<path d="M112.3,666.9H822.3V1044.3H112.3Z" fill="none" stroke="#141414" stroke-width="2.0"/>
<line x1="112.3" y1="818.7" x2="822.3" y2="818.7" stroke="#141414" stroke-width="2.0"/>
<line x1="112.3" y1="865.5" x2="822.3" y2="865.5" stroke="#141414" stroke-width="2.0"/>
<line x1="585.6333333333333" y1="666.9" x2="585.6333333333333" y2="818.7" stroke="#141414" stroke-width="2.0"/>
<line x1="585.6333333333333" y1="865.5" x2="585.6333333333333" y2="1044.3" stroke="#141414" stroke-width="2.0"/>
<line x1="230.63333333333333" y1="1044.3" x2="230.63333333333333" y2="1037.3" stroke="#222" stroke-width="1.6"/>
<line x1="348.96666666666664" y1="1044.3" x2="348.96666666666664" y2="1037.3" stroke="#222" stroke-width="1.6"/>
<line x1="467.3" y1="1044.3" x2="467.3" y2="1037.3" stroke="#222" stroke-width="1.6"/>
<line x1="703.9666666666666" y1="1044.3" x2="703.9666666666666" y2="1037.3" stroke="#222" stroke-width="1.6"/>
<line x1="112.3" y1="956.2199999999999" x2="119.3" y2="956.2199999999999" stroke="#222" stroke-width="1.6"/>
<line x1="112.3" y1="780.06" x2="119.3" y2="780.06" stroke="#222" stroke-width="1.6"/>
<line x1="112.3" y1="691.98" x2="119.3" y2="691.98" stroke="#222" stroke-width="1.6"/>
<text x="112.3" y="1085.8999999999999" font-size="32" text-anchor="middle" fill="#1a1a1a">21</text>
<text x="230.63333333333333" y="1085.8999999999999" font-size="32" text-anchor="middle" fill="#1a1a1a">22</text>
<text x="348.96666666666664" y="1085.8999999999999" font-size="32" text-anchor="middle" fill="#1a1a1a">23</text>
<text x="467.3" y="1085.8999999999999" font-size="32" text-anchor="middle" fill="#1a1a1a">24</text>
<text x="585.6333333333333" y="1085.8999999999999" font-size="32" text-anchor="middle" fill="#1a1a1a">25</text>
<text x="703.9666666666666" y="1085.8999999999999" font-size="32" text-anchor="middle" fill="#1a1a1a">26</text>
<text x="822.3" y="1085.8999999999999" font-size="32" text-anchor="middle" fill="#1a1a1a">27</text>
<text x="98.89999999999999" y="1054.2" font-size="32" text-anchor="end" fill="#1a1a1a">0</text>
<text x="98.89999999999999" y="966.1199999999999" font-size="32" text-anchor="end" fill="#1a1a1a">40</text>
<text x="98.89999999999999" y="878.04" font-size="32" text-anchor="end" fill="#1a1a1a">80</text>
<text x="98.89999999999999" y="789.9599999999999" font-size="32" text-anchor="end" fill="#1a1a1a">120</text>
<text x="98.89999999999999" y="701.88" font-size="32" text-anchor="end" fill="#1a1a1a">160</text>
<text x="467.29999999999995" y="1126.3" font-size="34" text-anchor="middle" textLength="172" lengthAdjust="spacingAndGlyphs" fill="#1a1a1a">Width / mm</text>
<text x="29.299999999999997" y="855.5999999999999" font-size="34" text-anchor="middle" textLength="210" lengthAdjust="spacingAndGlyphs" transform="rotate(-90 29.299999999999997 855.5999999999999)" fill="#1a1a1a">Thickness / <tspan font-style="italic">μ</tspan>m</text>
<text x="136.3" y="648.2" font-size="34" textLength="665" lengthAdjust="spacingAndGlyphs" fill="#1a1a1a">c) Solid/liquid Interface Potential - EoC Cycle 50</text>
<rect x="868.30" y="666.90" width="45.50" height="17.48" fill="#30123b"/>
<rect x="868.30" y="683.88" width="45.50" height="17.48" fill="#466be3"/>
<rect x="868.30" y="700.86" width="45.50" height="17.48" fill="#28bceb"/>
<rect x="868.30" y="717.83" width="45.50" height="17.48" fill="#32f298"/>
<rect x="868.30" y="734.81" width="45.50" height="17.48" fill="#a4fc3c"/>
<rect x="868.30" y="751.79" width="45.50" height="17.48" fill="#eecf3a"/>
<rect x="868.30" y="768.77" width="45.50" height="17.48" fill="#fb7e21"/>
<rect x="868.30" y="785.74" width="45.50" height="17.48" fill="#d02f05"/>
<rect x="868.30" y="802.72" width="45.50" height="17.48" fill="#7a0403"/>
<rect x="868.60" y="667.20" width="44.90" height="152.20" fill="none" stroke="#2a2a2a" stroke-width="1.3"/>
<rect x="868.30" y="864.50" width="45.50" height="20.56" fill="#30123b"/>
<rect x="868.30" y="884.56" width="45.50" height="20.56" fill="#466be3"/>
<rect x="868.30" y="904.61" width="45.50" height="20.56" fill="#28bceb"/>
<rect x="868.30" y="924.67" width="45.50" height="20.56" fill="#32f298"/>
<rect x="868.30" y="944.72" width="45.50" height="20.56" fill="#a4fc3c"/>
<rect x="868.30" y="964.78" width="45.50" height="20.56" fill="#eecf3a"/>
<rect x="868.30" y="984.83" width="45.50" height="20.56" fill="#fb7e21"/>
<rect x="868.30" y="1004.89" width="45.50" height="20.56" fill="#d02f05"/>
<rect x="868.30" y="1024.94" width="45.50" height="20.56" fill="#7a0403"/>
<rect x="868.60" y="864.80" width="44.90" height="179.90" fill="none" stroke="#2a2a2a" stroke-width="1.3"/>
<line x1="906.8" y1="799.9" x2="913.8" y2="799.9" stroke="#222" stroke-width="1.5"/>
<text x="927.0999999999999" y="808.4" font-size="32" fill="#1a1a1a">4.18</text>
<line x1="906.8" y1="769.75" x2="913.8" y2="769.75" stroke="#222" stroke-width="1.5"/>
<text x="927.0999999999999" y="778.25" font-size="32" fill="#1a1a1a">4.2</text>
<line x1="906.8" y1="739.6" x2="913.8" y2="739.6" stroke="#222" stroke-width="1.5"/>
<text x="927.0999999999999" y="748.1" font-size="32" fill="#1a1a1a">4.22</text>
<line x1="906.8" y1="709.45" x2="913.8" y2="709.45" stroke="#222" stroke-width="1.5"/>
<text x="927.0999999999999" y="717.95" font-size="32" fill="#1a1a1a">4.24</text>
<line x1="906.8" y1="679.3" x2="913.8" y2="679.3" stroke="#222" stroke-width="1.5"/>
<text x="927.0999999999999" y="687.8" font-size="32" fill="#1a1a1a">4.26</text>
<line x1="906.8" y1="1028.3999999999999" x2="913.8" y2="1028.3999999999999" stroke="#222" stroke-width="1.5"/>
<text x="927.0999999999999" y="1036.1999999999998" font-size="32" fill="#1a1a1a">0</text>
<line x1="906.8" y1="1001.3999999999999" x2="913.8" y2="1001.3999999999999" stroke="#222" stroke-width="1.5"/>
<text x="927.0999999999999" y="1009.1999999999998" font-size="32" fill="#1a1a1a">0.02</text>
<line x1="906.8" y1="974.3999999999999" x2="913.8" y2="974.3999999999999" stroke="#222" stroke-width="1.5"/>
<text x="927.0999999999999" y="982.1999999999998" font-size="32" fill="#1a1a1a">0.04</text>
<line x1="906.8" y1="947.3999999999999" x2="913.8" y2="947.3999999999999" stroke="#222" stroke-width="1.5"/>
<text x="927.0999999999999" y="955.1999999999998" font-size="32" fill="#1a1a1a">0.06</text>
<line x1="906.8" y1="920.3999999999999" x2="913.8" y2="920.3999999999999" stroke="#222" stroke-width="1.5"/>
<text x="927.0999999999999" y="928.1999999999998" font-size="32" fill="#1a1a1a">0.08</text>
<line x1="906.8" y1="893.3999999999999" x2="913.8" y2="893.3999999999999" stroke="#222" stroke-width="1.5"/>
<text x="927.0999999999999" y="901.1999999999998" font-size="32" fill="#1a1a1a">0.1</text>
<text x="927.0999999999999" y="874.1999999999998" font-size="32" fill="#1a1a1a">0.12</text>
<text x="846.8" y="648.2" font-size="34" textLength="162" lengthAdjust="spacingAndGlyphs" fill="#1a1a1a">Φ<tspan font-style="italic" font-size="24.5" dy="6.1">s</tspan><tspan dy="-6.1"> - Φ</tspan><tspan font-style="italic" font-size="24.5" dy="6.1">l</tspan><tspan dy="-6.1"> in V</tspan></text>
<path d="M1150.8,664.9H1860.5V1042.2H1150.8Z" fill="none" stroke="#141414" stroke-width="2.0"/>
<line x1="1150.8" y1="816.9" x2="1860.5" y2="816.9" stroke="#141414" stroke-width="2.0"/>
<line x1="1150.8" y1="862.9" x2="1860.5" y2="862.9" stroke="#141414" stroke-width="2.0"/>
<line x1="1623.9333333333334" y1="664.9" x2="1623.9333333333334" y2="816.9" stroke="#141414" stroke-width="2.0"/>
<line x1="1623.9333333333334" y1="862.9" x2="1623.9333333333334" y2="1042.2" stroke="#141414" stroke-width="2.0"/>
<line x1="1269.0833333333333" y1="1042.2" x2="1269.0833333333333" y2="1035.2" stroke="#222" stroke-width="1.6"/>
<line x1="1387.3666666666666" y1="1042.2" x2="1387.3666666666666" y2="1035.2" stroke="#222" stroke-width="1.6"/>
<line x1="1505.65" y1="1042.2" x2="1505.65" y2="1035.2" stroke="#222" stroke-width="1.6"/>
<line x1="1742.2166666666667" y1="1042.2" x2="1742.2166666666667" y2="1035.2" stroke="#222" stroke-width="1.6"/>
<line x1="1150.8" y1="954.12" x2="1157.8" y2="954.12" stroke="#222" stroke-width="1.6"/>
<line x1="1150.8" y1="777.96" x2="1157.8" y2="777.96" stroke="#222" stroke-width="1.6"/>
<line x1="1150.8" y1="689.8800000000001" x2="1157.8" y2="689.8800000000001" stroke="#222" stroke-width="1.6"/>
<line x1="1150.8" y1="866.0400000000001" x2="1157.8" y2="866.0400000000001" stroke="#111" stroke-width="1.8"/>
<text x="1150.8" y="1083.8" font-size="32" text-anchor="middle" fill="#1a1a1a">21</text>
<text x="1269.0833333333333" y="1083.8" font-size="32" text-anchor="middle" fill="#1a1a1a">22</text>
<text x="1387.3666666666666" y="1083.8" font-size="32" text-anchor="middle" fill="#1a1a1a">23</text>
<text x="1505.65" y="1083.8" font-size="32" text-anchor="middle" fill="#1a1a1a">24</text>
<text x="1623.9333333333334" y="1083.8" font-size="32" text-anchor="middle" fill="#1a1a1a">25</text>
<text x="1742.2166666666667" y="1083.8" font-size="32" text-anchor="middle" fill="#1a1a1a">26</text>
<text x="1860.5" y="1083.8" font-size="32" text-anchor="middle" fill="#1a1a1a">27</text>
<text x="1137.3999999999999" y="1052.1000000000001" font-size="32" text-anchor="end" fill="#1a1a1a">0</text>
<text x="1137.3999999999999" y="964.02" font-size="32" text-anchor="end" fill="#1a1a1a">40</text>
<text x="1137.3999999999999" y="875.94" font-size="32" text-anchor="end" fill="#1a1a1a">80</text>
<text x="1137.3999999999999" y="787.86" font-size="32" text-anchor="end" fill="#1a1a1a">120</text>
<text x="1137.3999999999999" y="699.7800000000001" font-size="32" text-anchor="end" fill="#1a1a1a">160</text>
<text x="1505.65" y="1124.2" font-size="34" text-anchor="middle" textLength="172" lengthAdjust="spacingAndGlyphs" fill="#1a1a1a">Width / mm</text>
<text x="1067.8" y="853.55" font-size="34" text-anchor="middle" textLength="210" lengthAdjust="spacingAndGlyphs" transform="rotate(-90 1067.8 853.55)" fill="#1a1a1a">Thickness / <tspan font-style="italic">μ</tspan>m</text>
<text x="1190.5" y="647.5" font-size="34" textLength="668" lengthAdjust="spacingAndGlyphs" fill="#1a1a1a">d) Solid/liquid Interface Potential - EoC Cycle 50</text>
<rect x="1906.50" y="664.90" width="45.50" height="17.50" fill="#30123b"/>
<rect x="1906.50" y="681.90" width="45.50" height="17.50" fill="#466be3"/>
<rect x="1906.50" y="698.90" width="45.50" height="17.50" fill="#28bceb"/>
<rect x="1906.50" y="715.90" width="45.50" height="17.50" fill="#32f298"/>
<rect x="1906.50" y="732.90" width="45.50" height="17.50" fill="#a4fc3c"/>
<rect x="1906.50" y="749.90" width="45.50" height="17.50" fill="#eecf3a"/>
<rect x="1906.50" y="766.90" width="45.50" height="17.50" fill="#fb7e21"/>
<rect x="1906.50" y="783.90" width="45.50" height="17.50" fill="#d02f05"/>
<rect x="1906.50" y="800.90" width="45.50" height="17.50" fill="#7a0403"/>
<rect x="1906.80" y="665.20" width="44.90" height="152.40" fill="none" stroke="#2a2a2a" stroke-width="1.3"/>
<rect x="1906.50" y="861.90" width="45.50" height="20.61" fill="#30123b"/>
<rect x="1906.50" y="882.01" width="45.50" height="20.61" fill="#466be3"/>
<rect x="1906.50" y="902.12" width="45.50" height="20.61" fill="#28bceb"/>
<rect x="1906.50" y="922.23" width="45.50" height="20.61" fill="#32f298"/>
<rect x="1906.50" y="942.34" width="45.50" height="20.61" fill="#a4fc3c"/>
<rect x="1906.50" y="962.46" width="45.50" height="20.61" fill="#eecf3a"/>
<rect x="1906.50" y="982.57" width="45.50" height="20.61" fill="#fb7e21"/>
<rect x="1906.50" y="1002.68" width="45.50" height="20.61" fill="#d02f05"/>
<rect x="1906.50" y="1022.79" width="45.50" height="20.61" fill="#7a0403"/>
<rect x="1906.80" y="862.20" width="44.90" height="180.40" fill="none" stroke="#2a2a2a" stroke-width="1.3"/>
<line x1="1945.0" y1="797.9" x2="1952.0" y2="797.9" stroke="#222" stroke-width="1.5"/>
<text x="1965.3" y="806.4" font-size="32" fill="#1a1a1a">4.18</text>
<line x1="1945.0" y1="767.75" x2="1952.0" y2="767.75" stroke="#222" stroke-width="1.5"/>
<text x="1965.3" y="776.25" font-size="32" fill="#1a1a1a">4.2</text>
<line x1="1945.0" y1="737.6" x2="1952.0" y2="737.6" stroke="#222" stroke-width="1.5"/>
<text x="1965.3" y="746.1" font-size="32" fill="#1a1a1a">4.22</text>
<line x1="1945.0" y1="707.45" x2="1952.0" y2="707.45" stroke="#222" stroke-width="1.5"/>
<text x="1965.3" y="715.95" font-size="32" fill="#1a1a1a">4.24</text>
<line x1="1945.0" y1="677.3" x2="1952.0" y2="677.3" stroke="#222" stroke-width="1.5"/>
<text x="1965.3" y="685.8" font-size="32" fill="#1a1a1a">4.26</text>
<line x1="1945.0" y1="1026.3" x2="1952.0" y2="1026.3" stroke="#222" stroke-width="1.5"/>
<text x="1965.3" y="1034.1" font-size="32" fill="#1a1a1a">0</text>
<line x1="1945.0" y1="999.3" x2="1952.0" y2="999.3" stroke="#222" stroke-width="1.5"/>
<text x="1965.3" y="1007.0999999999999" font-size="32" fill="#1a1a1a">0.02</text>
<line x1="1945.0" y1="972.3" x2="1952.0" y2="972.3" stroke="#222" stroke-width="1.5"/>
<text x="1965.3" y="980.0999999999999" font-size="32" fill="#1a1a1a">0.04</text>
<line x1="1945.0" y1="945.3" x2="1952.0" y2="945.3" stroke="#222" stroke-width="1.5"/>
<text x="1965.3" y="953.0999999999999" font-size="32" fill="#1a1a1a">0.06</text>
<line x1="1945.0" y1="918.3" x2="1952.0" y2="918.3" stroke="#222" stroke-width="1.5"/>
<text x="1965.3" y="926.0999999999999" font-size="32" fill="#1a1a1a">0.08</text>
<line x1="1945.0" y1="891.3" x2="1952.0" y2="891.3" stroke="#222" stroke-width="1.5"/>
<text x="1965.3" y="899.0999999999999" font-size="32" fill="#1a1a1a">0.1</text>
<text x="1965.3" y="872.0999999999999" font-size="32" fill="#1a1a1a">0.12</text>
<text x="1887.0" y="647.5" font-size="34" textLength="162" lengthAdjust="spacingAndGlyphs" fill="#1a1a1a">Φ<tspan font-style="italic" font-size="24.5" dy="6.1">s</tspan><tspan dy="-6.1"> - Φ</tspan><tspan font-style="italic" font-size="24.5" dy="6.1">l</tspan><tspan dy="-6.1"> in V</tspan></text>
<text x="126.3" y="186.8" font-size="34" textLength="21.5" lengthAdjust="spacingAndGlyphs" fill="#ffffff">C</text>
<text x="598.4" y="186.6" font-size="34" textLength="22.5" lengthAdjust="spacingAndGlyphs" fill="#000000">E</text>
<text x="125.8" y="331.4" font-size="34" textLength="17" lengthAdjust="spacingAndGlyphs" fill="#000000">S</text>
<text x="156" y="331.4" font-size="34" textLength="88" lengthAdjust="spacingAndGlyphs" fill="#ff0000">Center</text>
<text x="250.6" y="331.4" font-size="34" textLength="22" lengthAdjust="spacingAndGlyphs" fill="#000000">=</text>
<text x="284.4" y="331.4" font-size="34" textLength="53" lengthAdjust="spacingAndGlyphs" fill="#000000">Min</text>
<text x="487.5" y="331.4" font-size="34" textLength="273" lengthAdjust="spacingAndGlyphs" fill="#0000ff">Near Edge x=24mm</text>
<text x="126" y="507.6" font-size="34" textLength="21.5" lengthAdjust="spacingAndGlyphs" fill="#000000">A</text>
<text x="598.4" y="507.6" font-size="34" textLength="46.5" lengthAdjust="spacingAndGlyphs" fill="#ffffff">OH</text>
<text x="629" y="395.5" font-size="34" textLength="80" lengthAdjust="spacingAndGlyphs" fill="#ffffff">Lower</text>
<text x="629" y="431.5" font-size="34" textLength="166.5" lengthAdjust="spacingAndGlyphs" fill="#ffffff">Plating Risk</text>
<line x1="468.4" y1="300" x2="468.4" y2="326.3" stroke="#0000ff" stroke-width="2.7"/>
<polygon points="468.4,342.4 460.1,320.9 468.4,326.3 476.6,320.9" fill="#0000ff"/>
<line x1="146.5" y1="342.6" x2="128.1" y2="342.6" stroke="#ff0000" stroke-width="2.7"/>
<polygon points="112.0,342.6 133.5,334.4 128.1,342.6 133.5,350.9" fill="#ff0000"/>
<line x1="613.8" y1="386.3" x2="591.1" y2="371.3" stroke="#ffffff" stroke-width="2.4"/>
<polygon points="578.0,362.6 599.8,367.7 591.1,371.3 591.2,380.7" fill="#ffffff"/>
<text x="126.3" y="710.3" font-size="34" textLength="21.5" lengthAdjust="spacingAndGlyphs" fill="#ffffff">C</text>
<text x="597.6" y="710.3" font-size="34" textLength="22.5" lengthAdjust="spacingAndGlyphs" fill="#000000">E</text>
<text x="125.5" y="853.8" font-size="34" textLength="17" lengthAdjust="spacingAndGlyphs" fill="#000000">S</text>
<text x="149.7" y="853.8" font-size="34" textLength="205.5" lengthAdjust="spacingAndGlyphs" fill="#ff0000">Center x=0mm</text>
<text x="394.3" y="853.8" font-size="34" textLength="53" lengthAdjust="spacingAndGlyphs" fill="#000000">Min</text>
<text x="486.2" y="853.8" font-size="34" textLength="273.5" lengthAdjust="spacingAndGlyphs" fill="#0000ff">Near Edge x=24mm</text>
<text x="125.6" y="1030.2" font-size="34" textLength="21.5" lengthAdjust="spacingAndGlyphs" fill="#000000">A</text>
<text x="597.6" y="1030.8" font-size="34" textLength="46.5" lengthAdjust="spacingAndGlyphs" fill="#ffffff">OH</text>
<text x="613.4" y="915.2" font-size="34" textLength="89" lengthAdjust="spacingAndGlyphs" fill="#ffffff">Higher</text>
<text x="613.4" y="951.8" font-size="34" textLength="167" lengthAdjust="spacingAndGlyphs" fill="#ffffff">Plating Risk</text>
<line x1="373" y1="822.3" x2="373.0" y2="847.7" stroke="#000000" stroke-width="2.7"/>
<polygon points="373.0,863.8 364.8,842.3 373.0,847.7 381.2,842.3" fill="#000000"/>
<line x1="467.9" y1="822.3" x2="467.9" y2="847.7" stroke="#0000ff" stroke-width="2.7"/>
<polygon points="467.9,863.8 459.6,842.3 467.9,847.7 476.1,842.3" fill="#0000ff"/>
<line x1="146.5" y1="865.2" x2="127.7" y2="865.2" stroke="#ff0000" stroke-width="2.7"/>
<polygon points="111.6,865.2 133.1,857.0 127.7,865.2 133.1,873.5" fill="#ff0000"/>
<line x1="584.3" y1="909.3" x2="444.5" y2="884.7" stroke="#ffffff" stroke-width="2.4"/>
<polygon points="429.0,882.0 451.0,878.0 444.5,884.7 448.3,893.3" fill="#ffffff"/>
<text x="1163" y="184.6" font-size="34" textLength="21.5" lengthAdjust="spacingAndGlyphs" fill="#ffffff">C</text>
<text x="1636.6" y="184.6" font-size="34" textLength="22.5" lengthAdjust="spacingAndGlyphs" fill="#000000">E</text>
<text x="1163" y="328.0" font-size="34" textLength="16" lengthAdjust="spacingAndGlyphs" fill="#000000">S</text>
<text x="1163.4" y="504.2" font-size="34" textLength="21.5" lengthAdjust="spacingAndGlyphs" fill="#000000">A</text>
<text x="1636.6" y="504.2" font-size="34" textLength="22.5" lengthAdjust="spacingAndGlyphs" fill="#000000">E</text>
<text x="1163" y="708.6" font-size="34" textLength="21.5" lengthAdjust="spacingAndGlyphs" fill="#ffffff">C</text>
<text x="1636.6" y="708.6" font-size="34" textLength="22.5" lengthAdjust="spacingAndGlyphs" fill="#000000">E</text>
<text x="1163" y="851.5" font-size="34" textLength="16" lengthAdjust="spacingAndGlyphs" fill="#000000">S</text>
<text x="1163.4" y="1028.4" font-size="34" textLength="21.5" lengthAdjust="spacingAndGlyphs" fill="#000000">A</text>
<text x="1636.6" y="1028.4" font-size="34" textLength="22.5" lengthAdjust="spacingAndGlyphs" fill="#000000">E</text>
<text x="1689" y="922.0" font-size="34" textLength="121.5" lengthAdjust="spacingAndGlyphs" fill="#000000">Constant</text>
<text x="1689" y="958.6" font-size="34" textLength="152.5" lengthAdjust="spacingAndGlyphs" fill="#000000">over Cycles</text>
<line x1="1683" y1="918.8" x2="1622.5" y2="882.2" stroke="#000000" stroke-width="2.2"/>
<polygon points="1609.0,874.0 1630.8,878.5 1622.5,882.2 1623.1,891.3" fill="#000000"/>
<rect x="144.30" y="1188.20" width="521.50" height="461.10" fill="#ffffff"/>
<rect x="144.30" y="1429.80" width="521.50" height="219.50" fill="#fde3e3"/>
<line x1="242.7" y1="1188.2" x2="242.7" y2="1649.3" stroke="#000" stroke-width="1.3" stroke-opacity="0.15"/>
<line x1="341.1" y1="1188.2" x2="341.1" y2="1649.3" stroke="#000" stroke-width="1.3" stroke-opacity="0.15"/>
<line x1="439.5" y1="1188.2" x2="439.5" y2="1649.3" stroke="#000" stroke-width="1.3" stroke-opacity="0.15"/>
<line x1="537.9" y1="1188.2" x2="537.9" y2="1649.3" stroke="#000" stroke-width="1.3" stroke-opacity="0.15"/>
<line x1="636.3" y1="1188.2" x2="636.3" y2="1649.3" stroke="#000" stroke-width="1.3" stroke-opacity="0.15"/>
<line x1="144.3" y1="1209.8" x2="665.8" y2="1209.8" stroke="#000" stroke-width="1.3" stroke-opacity="0.15"/>
<line x1="144.3" y1="1264.8" x2="665.8" y2="1264.8" stroke="#000" stroke-width="1.3" stroke-opacity="0.15"/>
<line x1="144.3" y1="1319.8" x2="665.8" y2="1319.8" stroke="#000" stroke-width="1.3" stroke-opacity="0.15"/>
<line x1="144.3" y1="1374.8" x2="665.8" y2="1374.8" stroke="#000" stroke-width="1.3" stroke-opacity="0.15"/>
<line x1="144.3" y1="1429.8" x2="665.8" y2="1429.8" stroke="#000" stroke-width="1.3" stroke-opacity="0.15"/>
<line x1="144.3" y1="1484.8" x2="665.8" y2="1484.8" stroke="#000" stroke-width="1.3" stroke-opacity="0.15"/>
<line x1="144.3" y1="1539.8" x2="665.8" y2="1539.8" stroke="#000" stroke-width="1.3" stroke-opacity="0.15"/>
<line x1="144.3" y1="1594.8" x2="665.8" y2="1594.8" stroke="#000" stroke-width="1.3" stroke-opacity="0.15"/>
<line x1="242.7" y1="1649.3" x2="242.7" y2="1643.3" stroke="#2e2e2e" stroke-width="1.5"/>
<line x1="242.7" y1="1188.2" x2="242.7" y2="1194.2" stroke="#2e2e2e" stroke-width="1.5"/>
<line x1="341.1" y1="1649.3" x2="341.1" y2="1643.3" stroke="#2e2e2e" stroke-width="1.5"/>
<line x1="341.1" y1="1188.2" x2="341.1" y2="1194.2" stroke="#2e2e2e" stroke-width="1.5"/>
<line x1="439.5" y1="1649.3" x2="439.5" y2="1643.3" stroke="#2e2e2e" stroke-width="1.5"/>
<line x1="439.5" y1="1188.2" x2="439.5" y2="1194.2" stroke="#2e2e2e" stroke-width="1.5"/>
<line x1="537.9" y1="1649.3" x2="537.9" y2="1643.3" stroke="#2e2e2e" stroke-width="1.5"/>
<line x1="537.9" y1="1188.2" x2="537.9" y2="1194.2" stroke="#2e2e2e" stroke-width="1.5"/>
<line x1="636.3" y1="1649.3" x2="636.3" y2="1643.3" stroke="#2e2e2e" stroke-width="1.5"/>
<line x1="636.3" y1="1188.2" x2="636.3" y2="1194.2" stroke="#2e2e2e" stroke-width="1.5"/>
<line x1="144.3" y1="1209.8" x2="150.3" y2="1209.8" stroke="#2e2e2e" stroke-width="1.5"/>
<line x1="665.8" y1="1209.8" x2="659.8" y2="1209.8" stroke="#2e2e2e" stroke-width="1.5"/>
<line x1="144.3" y1="1264.8" x2="150.3" y2="1264.8" stroke="#2e2e2e" stroke-width="1.5"/>
<line x1="665.8" y1="1264.8" x2="659.8" y2="1264.8" stroke="#2e2e2e" stroke-width="1.5"/>
<line x1="144.3" y1="1319.8" x2="150.3" y2="1319.8" stroke="#2e2e2e" stroke-width="1.5"/>
<line x1="665.8" y1="1319.8" x2="659.8" y2="1319.8" stroke="#2e2e2e" stroke-width="1.5"/>
<line x1="144.3" y1="1374.8" x2="150.3" y2="1374.8" stroke="#2e2e2e" stroke-width="1.5"/>
<line x1="665.8" y1="1374.8" x2="659.8" y2="1374.8" stroke="#2e2e2e" stroke-width="1.5"/>
<line x1="144.3" y1="1429.8" x2="150.3" y2="1429.8" stroke="#2e2e2e" stroke-width="1.5"/>
<line x1="665.8" y1="1429.8" x2="659.8" y2="1429.8" stroke="#2e2e2e" stroke-width="1.5"/>
<line x1="144.3" y1="1484.8" x2="150.3" y2="1484.8" stroke="#2e2e2e" stroke-width="1.5"/>
<line x1="665.8" y1="1484.8" x2="659.8" y2="1484.8" stroke="#2e2e2e" stroke-width="1.5"/>
<line x1="144.3" y1="1539.8" x2="150.3" y2="1539.8" stroke="#2e2e2e" stroke-width="1.5"/>
<line x1="665.8" y1="1539.8" x2="659.8" y2="1539.8" stroke="#2e2e2e" stroke-width="1.5"/>
<line x1="144.3" y1="1594.8" x2="150.3" y2="1594.8" stroke="#2e2e2e" stroke-width="1.5"/>
<line x1="665.8" y1="1594.8" x2="659.8" y2="1594.8" stroke="#2e2e2e" stroke-width="1.5"/>
<text x="144.3" y="1690.7" font-size="32" text-anchor="middle" fill="#1a1a1a">0</text>
<text x="242.7" y="1690.7" font-size="32" text-anchor="middle" fill="#1a1a1a">50</text>
<text x="341.1" y="1690.7" font-size="32" text-anchor="middle" fill="#1a1a1a">100</text>
<text x="439.5" y="1690.7" font-size="32" text-anchor="middle" fill="#1a1a1a">150</text>
<text x="537.9" y="1690.7" font-size="32" text-anchor="middle" fill="#1a1a1a">200</text>
<text x="636.3" y="1690.7" font-size="32" text-anchor="middle" fill="#1a1a1a">250</text>
<text x="130.3" y="1218.8" font-size="32" text-anchor="end" fill="#1a1a1a">10</text>
<text x="130.3" y="1273.8" font-size="32" text-anchor="end" fill="#1a1a1a">7.5</text>
<text x="130.3" y="1328.8" font-size="32" text-anchor="end" fill="#1a1a1a">5</text>
<text x="130.3" y="1383.8" font-size="32" text-anchor="end" fill="#1a1a1a">2.5</text>
<text x="130.3" y="1438.8" font-size="32" text-anchor="end" fill="#1a1a1a">0</text>
<text x="130.3" y="1493.8" font-size="32" text-anchor="end" fill="#1a1a1a">-2.5</text>
<text x="130.3" y="1548.8" font-size="32" text-anchor="end" fill="#1a1a1a">-5</text>
<text x="130.3" y="1603.8" font-size="32" text-anchor="end" fill="#1a1a1a">-7.5</text>
<text x="130.3" y="1658.8" font-size="32" text-anchor="end" fill="#1a1a1a">-10</text>
<text x="405.04999999999995" y="1729.8" font-size="34" text-anchor="middle" textLength="130" lengthAdjust="spacingAndGlyphs" fill="#1a1a1a">Cycles / -</text>
<clipPath id="ce"><rect x="144.3" y="1188.2" width="521.5" height="461.0999999999999"/></clipPath><g clip-path="url(#ce)">
<path d="M145.8,1273.0C146.1,1275.3 146.5,1283.2 147.5,1286.7C148.5,1290.2 150.0,1292.0 151.7,1294.2C153.4,1296.4 155.7,1297.7 157.5,1300.0C159.3,1302.3 161.0,1305.2 162.5,1308.3C164.0,1311.3 164.6,1312.5 166.7,1318.3C168.8,1324.1 172.2,1334.7 175.0,1343.3C177.8,1351.9 180.5,1361.4 183.3,1370.0C186.1,1378.6 188.9,1387.2 191.7,1395.0C194.5,1402.8 197.2,1409.9 200.0,1416.7C202.8,1423.5 205.5,1429.6 208.3,1435.6C211.1,1441.6 212.5,1445.5 216.7,1452.5C220.9,1459.5 228.3,1470.5 233.3,1477.5C238.3,1484.5 241.1,1488.4 246.7,1494.2C252.3,1500.0 259.2,1505.8 266.7,1512.5C274.2,1519.2 283.4,1527.7 291.7,1534.2C300.0,1540.7 308.4,1546.4 316.7,1551.7C325.0,1557.0 333.4,1561.7 341.7,1565.8C350.0,1569.9 360.3,1573.9 366.7,1576.3C373.1,1578.7 372.9,1577.9 380.0,1580.2C387.1,1582.5 401.7,1587.8 409.0,1590.2C416.3,1592.6 419.8,1593.5 423.6,1594.5C427.4,1595.5 429.4,1595.5 432.0,1596.2C434.6,1596.9 436.1,1597.8 439.5,1598.4C442.9,1599.0 448.0,1599.6 452.6,1599.9C457.2,1600.2 462.3,1600.3 467.1,1600.3C471.9,1600.2 476.8,1599.9 481.6,1599.6C486.5,1599.3 491.4,1598.8 496.2,1598.3C501.0,1597.8 503.7,1597.6 510.7,1596.6C517.7,1595.6 526.2,1594.6 538.3,1592.5C550.4,1590.4 568.5,1586.7 583.3,1583.8C598.0,1580.9 615.9,1577.1 626.8,1575.1C637.7,1573.1 644.1,1572.2 648.6,1571.6C653.1,1571.0 651.8,1571.7 653.5,1571.3C655.2,1570.9 656.9,1569.9 659.0,1569.3C661.1,1568.7 664.8,1567.8 666.0,1567.5" fill="none" stroke="#000" stroke-width="3.5" stroke-linejoin="round" stroke-linecap="butt"/>
<path d="M145.8,1259.0L147.6,1282.0L158.3,1275.0L175.0,1272.0L200.0,1270.0L225.0,1265.8L245.0,1268.3L266.7,1266.3L300.0,1265.3L325.0,1265.0L341.7,1266.2L383.3,1263.7L426.7,1264.3L480.0,1265.8L538.3,1267.5L596.7,1269.7L630.0,1270.5L646.7,1271.3L666.0,1271.2" fill="none" stroke="#ff0000" stroke-width="3.9" stroke-dasharray="14.6 4.1 6.9 4.1" stroke-linejoin="round" stroke-linecap="butt"/>
<path d="M148.6,1170.0C148.8,1173.0 149.2,1181.6 149.7,1188.3C150.2,1195.0 150.9,1202.2 151.7,1210.0C152.4,1217.8 153.2,1226.7 154.2,1235.0C155.2,1243.3 156.4,1252.5 157.5,1260.0C158.6,1267.5 159.6,1273.0 160.8,1280.0C162.1,1287.0 163.5,1294.4 165.0,1301.7C166.5,1309.0 168.3,1317.4 170.0,1324.0C171.7,1330.6 172.8,1334.1 175.0,1341.5C177.2,1348.9 180.5,1359.8 183.3,1368.5C186.1,1377.2 188.9,1385.7 191.7,1393.5C194.5,1401.3 198.1,1410.4 200.0,1415.5C201.9,1420.6 200.5,1419.0 203.3,1424.0C206.1,1429.0 211.7,1437.8 216.7,1445.2C221.7,1452.6 228.3,1462.1 233.3,1468.5C238.3,1474.9 241.1,1478.6 246.7,1483.5C252.3,1488.4 259.2,1492.8 266.7,1497.7C274.2,1502.6 283.4,1508.1 291.7,1512.7C300.0,1517.3 308.4,1521.7 316.7,1525.2C325.0,1528.7 333.4,1531.2 341.7,1533.5C350.0,1535.8 357.0,1537.6 366.7,1539.1C376.4,1540.6 390.3,1541.9 400.0,1542.5C409.7,1543.1 418.1,1542.7 425.0,1542.5C431.9,1542.3 435.3,1542.5 441.7,1541.3C448.1,1540.0 455.5,1537.8 463.3,1535.0C471.1,1532.2 480.0,1528.1 488.3,1524.2C496.6,1520.3 505.0,1515.9 513.3,1511.7C521.6,1507.5 530.0,1503.4 538.3,1499.2C546.6,1495.0 555.0,1491.0 563.3,1486.7C571.6,1482.4 580.0,1477.8 588.3,1473.3C596.6,1468.8 605.0,1464.3 613.3,1460.0C621.6,1455.7 631.3,1451.1 638.3,1447.5C645.2,1443.9 650.4,1440.7 655.0,1438.3C659.6,1435.9 664.2,1433.9 666.0,1433.0" fill="none" stroke="#0000ff" stroke-width="3.9" stroke-dasharray="3.6 3.7" stroke-linejoin="round" stroke-linecap="butt"/>
</g>
<rect x="144.3" y="1188.2" width="521.5" height="461.0999999999999" fill="none" stroke="#2e2e2e" stroke-width="2"/>
<rect x="250.60" y="1298.60" width="289.60" height="163.20" fill="#ffffff" stroke="#2e2e2e" stroke-width="1.8"/>
<path d="M262.5,1322.6L378.3,1322.6" fill="none" stroke="#000" stroke-width="3.6" stroke-linejoin="round" stroke-linecap="butt"/>
<text x="387.5" y="1331.1999999999998" font-size="34" textLength="52" lengthAdjust="spacingAndGlyphs" fill="#000000">Min</text>
<path d="M262.5,1361.3L378.3,1361.3" fill="none" stroke="#ff0000" stroke-width="3.9" stroke-dasharray="14.6 4.1 6.9 4.1" stroke-linejoin="round" stroke-linecap="butt"/>
<text x="387.5" y="1369.8999999999999" font-size="34" textLength="88" lengthAdjust="spacingAndGlyphs" fill="#000000">Center</text>
<path d="M262.5,1400.0L378.3,1400.0" fill="none" stroke="#0000ff" stroke-width="3.9" stroke-dasharray="3.6 3.7" stroke-linejoin="round" stroke-linecap="butt"/>
<text x="387.5" y="1408.6" font-size="34" textLength="140" lengthAdjust="spacingAndGlyphs" fill="#000000">Near Edge</text>
<rect x="262.50" y="1425.40" width="115.80" height="26.60" fill="#fde3e3"/>
<text x="387.5" y="1447.3" font-size="34" textLength="97" lengthAdjust="spacingAndGlyphs" fill="#000000">Plating</text>
<text x="205" y="1175.8" font-size="34" textLength="399.5" lengthAdjust="spacingAndGlyphs" fill="#1a1a1a">e) Φ<tspan font-style="italic" font-size="24.5" dy="6.1">s</tspan><tspan dy="-6.1"> - Φ</tspan><tspan font-style="italic" font-size="24.5" dy="6.1">l</tspan><tspan dy="-6.1"> at EoC - Overhang</tspan></text>
<text x="58.5" y="1421.75" font-size="34" text-anchor="middle" textLength="381" lengthAdjust="spacingAndGlyphs" transform="rotate(-90 58.5 1421.75)" fill="#1a1a1a">Local Anode Potential / mV</text>
<rect x="809.50" y="1188.20" width="521.90" height="461.10" fill="#ffffff"/>
<rect x="809.50" y="1429.80" width="521.90" height="219.50" fill="#fde3e3"/>
<line x1="907.9" y1="1188.2" x2="907.9" y2="1649.3" stroke="#000" stroke-width="1.3" stroke-opacity="0.15"/>
<line x1="1006.3" y1="1188.2" x2="1006.3" y2="1649.3" stroke="#000" stroke-width="1.3" stroke-opacity="0.15"/>
<line x1="1104.7" y1="1188.2" x2="1104.7" y2="1649.3" stroke="#000" stroke-width="1.3" stroke-opacity="0.15"/>
<line x1="1203.1" y1="1188.2" x2="1203.1" y2="1649.3" stroke="#000" stroke-width="1.3" stroke-opacity="0.15"/>
<line x1="1301.5" y1="1188.2" x2="1301.5" y2="1649.3" stroke="#000" stroke-width="1.3" stroke-opacity="0.15"/>
<line x1="809.5" y1="1209.8" x2="1331.4" y2="1209.8" stroke="#000" stroke-width="1.3" stroke-opacity="0.15"/>
<line x1="809.5" y1="1264.8" x2="1331.4" y2="1264.8" stroke="#000" stroke-width="1.3" stroke-opacity="0.15"/>
<line x1="809.5" y1="1319.8" x2="1331.4" y2="1319.8" stroke="#000" stroke-width="1.3" stroke-opacity="0.15"/>
<line x1="809.5" y1="1374.8" x2="1331.4" y2="1374.8" stroke="#000" stroke-width="1.3" stroke-opacity="0.15"/>
<line x1="809.5" y1="1429.8" x2="1331.4" y2="1429.8" stroke="#000" stroke-width="1.3" stroke-opacity="0.15"/>
<line x1="809.5" y1="1484.8" x2="1331.4" y2="1484.8" stroke="#000" stroke-width="1.3" stroke-opacity="0.15"/>
<line x1="809.5" y1="1539.8" x2="1331.4" y2="1539.8" stroke="#000" stroke-width="1.3" stroke-opacity="0.15"/>
<line x1="809.5" y1="1594.8" x2="1331.4" y2="1594.8" stroke="#000" stroke-width="1.3" stroke-opacity="0.15"/>
<line x1="907.9" y1="1649.3" x2="907.9" y2="1643.3" stroke="#2e2e2e" stroke-width="1.5"/>
<line x1="907.9" y1="1188.2" x2="907.9" y2="1194.2" stroke="#2e2e2e" stroke-width="1.5"/>
<line x1="1006.3" y1="1649.3" x2="1006.3" y2="1643.3" stroke="#2e2e2e" stroke-width="1.5"/>
<line x1="1006.3" y1="1188.2" x2="1006.3" y2="1194.2" stroke="#2e2e2e" stroke-width="1.5"/>
<line x1="1104.7" y1="1649.3" x2="1104.7" y2="1643.3" stroke="#2e2e2e" stroke-width="1.5"/>
<line x1="1104.7" y1="1188.2" x2="1104.7" y2="1194.2" stroke="#2e2e2e" stroke-width="1.5"/>
<line x1="1203.1" y1="1649.3" x2="1203.1" y2="1643.3" stroke="#2e2e2e" stroke-width="1.5"/>
<line x1="1203.1" y1="1188.2" x2="1203.1" y2="1194.2" stroke="#2e2e2e" stroke-width="1.5"/>
<line x1="1301.5" y1="1649.3" x2="1301.5" y2="1643.3" stroke="#2e2e2e" stroke-width="1.5"/>
<line x1="1301.5" y1="1188.2" x2="1301.5" y2="1194.2" stroke="#2e2e2e" stroke-width="1.5"/>
<line x1="809.5" y1="1209.8" x2="815.5" y2="1209.8" stroke="#2e2e2e" stroke-width="1.5"/>
<line x1="1331.4" y1="1209.8" x2="1325.4" y2="1209.8" stroke="#2e2e2e" stroke-width="1.5"/>
<line x1="809.5" y1="1264.8" x2="815.5" y2="1264.8" stroke="#2e2e2e" stroke-width="1.5"/>
<line x1="1331.4" y1="1264.8" x2="1325.4" y2="1264.8" stroke="#2e2e2e" stroke-width="1.5"/>
<line x1="809.5" y1="1319.8" x2="815.5" y2="1319.8" stroke="#2e2e2e" stroke-width="1.5"/>
<line x1="1331.4" y1="1319.8" x2="1325.4" y2="1319.8" stroke="#2e2e2e" stroke-width="1.5"/>
<line x1="809.5" y1="1374.8" x2="815.5" y2="1374.8" stroke="#2e2e2e" stroke-width="1.5"/>
<line x1="1331.4" y1="1374.8" x2="1325.4" y2="1374.8" stroke="#2e2e2e" stroke-width="1.5"/>
<line x1="809.5" y1="1429.8" x2="815.5" y2="1429.8" stroke="#2e2e2e" stroke-width="1.5"/>
<line x1="1331.4" y1="1429.8" x2="1325.4" y2="1429.8" stroke="#2e2e2e" stroke-width="1.5"/>
<line x1="809.5" y1="1484.8" x2="815.5" y2="1484.8" stroke="#2e2e2e" stroke-width="1.5"/>
<line x1="1331.4" y1="1484.8" x2="1325.4" y2="1484.8" stroke="#2e2e2e" stroke-width="1.5"/>
<line x1="809.5" y1="1539.8" x2="815.5" y2="1539.8" stroke="#2e2e2e" stroke-width="1.5"/>
<line x1="1331.4" y1="1539.8" x2="1325.4" y2="1539.8" stroke="#2e2e2e" stroke-width="1.5"/>
<line x1="809.5" y1="1594.8" x2="815.5" y2="1594.8" stroke="#2e2e2e" stroke-width="1.5"/>
<line x1="1331.4" y1="1594.8" x2="1325.4" y2="1594.8" stroke="#2e2e2e" stroke-width="1.5"/>
<text x="809.5" y="1690.7" font-size="32" text-anchor="middle" fill="#1a1a1a">0</text>
<text x="907.9" y="1690.7" font-size="32" text-anchor="middle" fill="#1a1a1a">50</text>
<text x="1006.3" y="1690.7" font-size="32" text-anchor="middle" fill="#1a1a1a">100</text>
<text x="1104.7" y="1690.7" font-size="32" text-anchor="middle" fill="#1a1a1a">150</text>
<text x="1203.1" y="1690.7" font-size="32" text-anchor="middle" fill="#1a1a1a">200</text>
<text x="1301.5" y="1690.7" font-size="32" text-anchor="middle" fill="#1a1a1a">250</text>
<text x="795.5" y="1218.8" font-size="32" text-anchor="end" fill="#1a1a1a">10</text>
<text x="795.5" y="1273.8" font-size="32" text-anchor="end" fill="#1a1a1a">7.5</text>
<text x="795.5" y="1328.8" font-size="32" text-anchor="end" fill="#1a1a1a">5</text>
<text x="795.5" y="1383.8" font-size="32" text-anchor="end" fill="#1a1a1a">2.5</text>
<text x="795.5" y="1438.8" font-size="32" text-anchor="end" fill="#1a1a1a">0</text>
<text x="795.5" y="1493.8" font-size="32" text-anchor="end" fill="#1a1a1a">-2.5</text>
<text x="795.5" y="1548.8" font-size="32" text-anchor="end" fill="#1a1a1a">-5</text>
<text x="795.5" y="1603.8" font-size="32" text-anchor="end" fill="#1a1a1a">-7.5</text>
<text x="795.5" y="1658.8" font-size="32" text-anchor="end" fill="#1a1a1a">-10</text>
<text x="1070.45" y="1729.8" font-size="34" text-anchor="middle" textLength="130" lengthAdjust="spacingAndGlyphs" fill="#1a1a1a">Cycles / -</text>
<clipPath id="cf"><rect x="809.5" y="1188.2" width="521.9000000000001" height="461.0999999999999"/></clipPath><g clip-path="url(#cf)">
<path d="M809.5,1250.5L810.9,1256.0L812.6,1275.4L815.4,1276.0L820.3,1276.0L829.2,1274.7L838.6,1273.4L848.9,1274.7L858.9,1276.0L870.5,1274.7L881.3,1273.6L890.2,1274.7L898.1,1275.6L927.6,1275.7L1006.3,1275.7L1104.7,1275.7L1118.5,1275.7L1128.3,1274.3L1138.2,1272.9L1175.5,1272.9L1212.9,1272.9L1220.8,1274.3L1228.7,1275.7L1281.8,1275.7L1332.0,1275.7" fill="none" stroke="#000" stroke-width="3.5" stroke-linejoin="round" stroke-linecap="butt"/>
<path d="M809.5,1250.5L810.9,1256.0L812.6,1275.4L815.4,1276.0L820.3,1276.0L829.2,1274.7L838.6,1273.4L848.9,1274.7L858.9,1276.0L870.5,1274.7L881.3,1273.6L890.2,1274.7L898.1,1275.6L927.6,1275.7L1006.3,1275.7L1104.7,1275.7L1118.5,1275.7L1128.3,1274.3L1138.2,1272.9L1175.5,1272.9L1212.9,1272.9L1220.8,1274.3L1228.7,1275.7L1281.8,1275.7L1332.0,1275.7" fill="none" stroke="#ff0000" stroke-width="3.9" stroke-dasharray="14.6 4.1 6.9 4.1" stroke-linejoin="round" stroke-linecap="butt"/>
<path d="M810.1,1241.7L811.3,1249.4L813.0,1269.2L815.4,1269.6L820.3,1269.6L829.2,1268.3L838.6,1267.2L848.9,1268.5L858.9,1269.9L870.5,1269.0L881.3,1268.1L890.2,1269.0L898.1,1269.4L927.6,1269.4L1006.3,1269.4L1104.7,1269.2L1118.5,1269.0L1128.3,1267.7L1138.2,1266.3L1175.5,1266.3L1209.0,1266.3L1218.8,1267.7L1228.7,1269.0L1281.8,1269.0L1332.0,1269.0" fill="none" stroke="#0000ff" stroke-width="3.9" stroke-dasharray="3.6 3.7" stroke-linejoin="round" stroke-linecap="butt"/>
</g>
<rect x="809.5" y="1188.2" width="521.9000000000001" height="461.0999999999999" fill="none" stroke="#2e2e2e" stroke-width="2"/>
<rect x="926.00" y="1452.60" width="289.40" height="163.00" fill="#ffffff" stroke="#2e2e2e" stroke-width="1.8"/>
<path d="M937.9,1476.6L1053.7,1476.6" fill="none" stroke="#000" stroke-width="3.6" stroke-linejoin="round" stroke-linecap="butt"/>
<text x="1062.9" y="1485.1999999999998" font-size="34" textLength="52" lengthAdjust="spacingAndGlyphs" fill="#000000">Min</text>
<path d="M937.9,1515.3L1053.7,1515.3" fill="none" stroke="#ff0000" stroke-width="3.9" stroke-dasharray="14.6 4.1 6.9 4.1" stroke-linejoin="round" stroke-linecap="butt"/>
<text x="1062.9" y="1523.8999999999999" font-size="34" textLength="88" lengthAdjust="spacingAndGlyphs" fill="#000000">Center</text>
<path d="M937.9,1554.0L1053.7,1554.0" fill="none" stroke="#0000ff" stroke-width="3.9" stroke-dasharray="3.6 3.7" stroke-linejoin="round" stroke-linecap="butt"/>
<text x="1062.9" y="1562.6" font-size="34" textLength="140" lengthAdjust="spacingAndGlyphs" fill="#000000">Near Edge</text>
<rect x="937.90" y="1579.40" width="115.80" height="26.60" fill="#fde3e3"/>
<text x="1062.9" y="1601.3" font-size="34" textLength="97" lengthAdjust="spacingAndGlyphs" fill="#000000">Plating</text>
<text x="850.7" y="1175.8" font-size="34" textLength="440" lengthAdjust="spacingAndGlyphs" fill="#1a1a1a">f) Φ<tspan font-style="italic" font-size="24.5" dy="6.1">s</tspan><tspan dy="-6.1"> - Φ</tspan><tspan font-style="italic" font-size="24.5" dy="6.1">l</tspan><tspan dy="-6.1"> at EoC - no Overhang</tspan></text>
<text x="724.5" y="1421.75" font-size="34" text-anchor="middle" textLength="381" lengthAdjust="spacingAndGlyphs" transform="rotate(-90 724.5 1421.75)" fill="#1a1a1a">Local Anode Potential / mV</text>
<rect x="1475.40" y="1188.00" width="521.00" height="461.30" fill="#ffffff"/>
<line x1="1573.8" y1="1188.0" x2="1573.8" y2="1649.3" stroke="#000" stroke-width="1.3" stroke-opacity="0.15"/>
<line x1="1672.2" y1="1188.0" x2="1672.2" y2="1649.3" stroke="#000" stroke-width="1.3" stroke-opacity="0.15"/>
<line x1="1770.6" y1="1188.0" x2="1770.6" y2="1649.3" stroke="#000" stroke-width="1.3" stroke-opacity="0.15"/>
<line x1="1869.0" y1="1188.0" x2="1869.0" y2="1649.3" stroke="#000" stroke-width="1.3" stroke-opacity="0.15"/>
<line x1="1967.4" y1="1188.0" x2="1967.4" y2="1649.3" stroke="#000" stroke-width="1.3" stroke-opacity="0.15"/>
<line x1="1475.4" y1="1210.0" x2="1996.4" y2="1210.0" stroke="#000" stroke-width="1.3" stroke-opacity="0.15"/>
<line x1="1475.4" y1="1264.9" x2="1996.4" y2="1264.9" stroke="#000" stroke-width="1.3" stroke-opacity="0.15"/>
<line x1="1475.4" y1="1319.8" x2="1996.4" y2="1319.8" stroke="#000" stroke-width="1.3" stroke-opacity="0.15"/>
<line x1="1475.4" y1="1374.7" x2="1996.4" y2="1374.7" stroke="#000" stroke-width="1.3" stroke-opacity="0.15"/>
<line x1="1475.4" y1="1429.6" x2="1996.4" y2="1429.6" stroke="#000" stroke-width="1.3" stroke-opacity="0.15"/>
<line x1="1475.4" y1="1484.5" x2="1996.4" y2="1484.5" stroke="#000" stroke-width="1.3" stroke-opacity="0.15"/>
<line x1="1475.4" y1="1539.4" x2="1996.4" y2="1539.4" stroke="#000" stroke-width="1.3" stroke-opacity="0.15"/>
<line x1="1475.4" y1="1594.3" x2="1996.4" y2="1594.3" stroke="#000" stroke-width="1.3" stroke-opacity="0.15"/>
<line x1="1573.8" y1="1649.3" x2="1573.8" y2="1643.3" stroke="#2e2e2e" stroke-width="1.5"/>
<line x1="1573.8" y1="1188.0" x2="1573.8" y2="1194.0" stroke="#2e2e2e" stroke-width="1.5"/>
<line x1="1672.2" y1="1649.3" x2="1672.2" y2="1643.3" stroke="#2e2e2e" stroke-width="1.5"/>
<line x1="1672.2" y1="1188.0" x2="1672.2" y2="1194.0" stroke="#2e2e2e" stroke-width="1.5"/>
<line x1="1770.6" y1="1649.3" x2="1770.6" y2="1643.3" stroke="#2e2e2e" stroke-width="1.5"/>
<line x1="1770.6" y1="1188.0" x2="1770.6" y2="1194.0" stroke="#2e2e2e" stroke-width="1.5"/>
<line x1="1869.0" y1="1649.3" x2="1869.0" y2="1643.3" stroke="#2e2e2e" stroke-width="1.5"/>
<line x1="1869.0" y1="1188.0" x2="1869.0" y2="1194.0" stroke="#2e2e2e" stroke-width="1.5"/>
<line x1="1967.4" y1="1649.3" x2="1967.4" y2="1643.3" stroke="#2e2e2e" stroke-width="1.5"/>
<line x1="1967.4" y1="1188.0" x2="1967.4" y2="1194.0" stroke="#2e2e2e" stroke-width="1.5"/>
<line x1="1475.4" y1="1210.0" x2="1481.4" y2="1210.0" stroke="#2e2e2e" stroke-width="1.5"/>
<line x1="1996.4" y1="1210.0" x2="1990.4" y2="1210.0" stroke="#2e2e2e" stroke-width="1.5"/>
<line x1="1475.4" y1="1264.9" x2="1481.4" y2="1264.9" stroke="#2e2e2e" stroke-width="1.5"/>
<line x1="1996.4" y1="1264.9" x2="1990.4" y2="1264.9" stroke="#2e2e2e" stroke-width="1.5"/>
<line x1="1475.4" y1="1319.8" x2="1481.4" y2="1319.8" stroke="#2e2e2e" stroke-width="1.5"/>
<line x1="1996.4" y1="1319.8" x2="1990.4" y2="1319.8" stroke="#2e2e2e" stroke-width="1.5"/>
<line x1="1475.4" y1="1374.7" x2="1481.4" y2="1374.7" stroke="#2e2e2e" stroke-width="1.5"/>
<line x1="1996.4" y1="1374.7" x2="1990.4" y2="1374.7" stroke="#2e2e2e" stroke-width="1.5"/>
<line x1="1475.4" y1="1429.6" x2="1481.4" y2="1429.6" stroke="#2e2e2e" stroke-width="1.5"/>
<line x1="1996.4" y1="1429.6" x2="1990.4" y2="1429.6" stroke="#2e2e2e" stroke-width="1.5"/>
<line x1="1475.4" y1="1484.5" x2="1481.4" y2="1484.5" stroke="#2e2e2e" stroke-width="1.5"/>
<line x1="1996.4" y1="1484.5" x2="1990.4" y2="1484.5" stroke="#2e2e2e" stroke-width="1.5"/>
<line x1="1475.4" y1="1539.4" x2="1481.4" y2="1539.4" stroke="#2e2e2e" stroke-width="1.5"/>
<line x1="1996.4" y1="1539.4" x2="1990.4" y2="1539.4" stroke="#2e2e2e" stroke-width="1.5"/>
<line x1="1475.4" y1="1594.3" x2="1481.4" y2="1594.3" stroke="#2e2e2e" stroke-width="1.5"/>
<line x1="1996.4" y1="1594.3" x2="1990.4" y2="1594.3" stroke="#2e2e2e" stroke-width="1.5"/>
<text x="1475.4" y="1690.7" font-size="32" text-anchor="middle" fill="#1a1a1a">0</text>
<text x="1573.8" y="1690.7" font-size="32" text-anchor="middle" fill="#1a1a1a">50</text>
<text x="1672.2" y="1690.7" font-size="32" text-anchor="middle" fill="#1a1a1a">100</text>
<text x="1770.6" y="1690.7" font-size="32" text-anchor="middle" fill="#1a1a1a">150</text>
<text x="1869.0" y="1690.7" font-size="32" text-anchor="middle" fill="#1a1a1a">200</text>
<text x="1967.4" y="1690.7" font-size="32" text-anchor="middle" fill="#1a1a1a">250</text>
<text x="1461.4" y="1219.0" font-size="32" text-anchor="end" fill="#1a1a1a">0</text>
<text x="1461.4" y="1273.9" font-size="32" text-anchor="end" fill="#1a1a1a">-2.5</text>
<text x="1461.4" y="1328.8" font-size="32" text-anchor="end" fill="#1a1a1a">-5</text>
<text x="1461.4" y="1383.7" font-size="32" text-anchor="end" fill="#1a1a1a">-7.5</text>
<text x="1461.4" y="1438.6" font-size="32" text-anchor="end" fill="#1a1a1a">-10</text>
<text x="1461.4" y="1493.5" font-size="32" text-anchor="end" fill="#1a1a1a">-12.5</text>
<text x="1461.4" y="1548.4" font-size="32" text-anchor="end" fill="#1a1a1a">-15</text>
<text x="1461.4" y="1603.3" font-size="32" text-anchor="end" fill="#1a1a1a">-17.5</text>
<text x="1461.4" y="1658.2" font-size="32" text-anchor="end" fill="#1a1a1a">-20</text>
<text x="1735.9" y="1729.8" font-size="34" text-anchor="middle" textLength="130" lengthAdjust="spacingAndGlyphs" fill="#1a1a1a">Cycles / -</text>
<clipPath id="cg"><rect x="1475.4" y="1188.0" width="521.0" height="461.29999999999995"/></clipPath><g clip-path="url(#cg)">
<path d="M1475.4,1210.5C1475.8,1211.0 1475.9,1211.0 1477.7,1213.6C1479.5,1216.1 1483.8,1222.0 1486.4,1225.8C1489.0,1229.6 1491.6,1232.5 1493.3,1236.3C1495.0,1240.1 1495.6,1244.2 1496.8,1248.5C1498.0,1252.8 1498.5,1255.4 1500.3,1262.4C1502.0,1269.4 1504.7,1280.8 1507.3,1290.3C1509.9,1299.8 1512.8,1309.2 1516.0,1319.1C1519.2,1329.0 1522.6,1339.9 1526.4,1349.6C1530.2,1359.3 1533.9,1367.8 1538.6,1377.4C1543.2,1387.0 1548.4,1398.0 1554.3,1407.1C1560.2,1416.2 1565.5,1422.8 1573.7,1432.2C1581.9,1441.7 1592.8,1453.8 1603.6,1463.8C1614.4,1473.8 1627.0,1483.8 1638.7,1492.0C1650.4,1500.2 1662.1,1507.2 1673.8,1513.0C1685.5,1518.8 1697.3,1523.0 1709.0,1527.1C1720.7,1531.2 1732.4,1534.8 1744.1,1537.6C1755.8,1540.4 1770.5,1542.8 1779.3,1544.0C1788.1,1545.2 1788.0,1545.2 1796.8,1544.7C1805.6,1544.2 1820.3,1542.9 1832.0,1541.1C1843.7,1539.3 1855.4,1536.7 1867.1,1534.1C1878.8,1531.5 1890.6,1527.9 1902.3,1525.3C1914.0,1522.7 1925.7,1520.6 1937.4,1518.3C1949.1,1516.0 1962.6,1513.5 1972.5,1511.3C1982.4,1509.1 1992.6,1506.3 1996.6,1505.3" fill="none" stroke="#000" stroke-width="3.5" stroke-dasharray="3.6 3.7" stroke-linejoin="round" stroke-linecap="butt"/>
<path d="M1475.4,1211.3L1479.0,1209.6L1520.0,1209.8L1996.4,1210.2" fill="none" stroke="#77ac30" stroke-width="3.3" stroke-linejoin="round" stroke-linecap="butt"/>
</g>
<rect x="1475.4" y="1188.0" width="521.0" height="461.29999999999995" fill="none" stroke="#2e2e2e" stroke-width="2"/>
<rect x="1600.00" y="1311.80" width="325.80" height="86.40" fill="#ffffff" stroke="#2e2e2e" stroke-width="1.8"/>
<path d="M1611.3,1335.6L1726.5,1335.6" fill="none" stroke="#000" stroke-width="3.5" stroke-dasharray="3.6 3.7" stroke-linejoin="round" stroke-linecap="butt"/>
<path d="M1611.3,1374.3L1726.5,1374.3" fill="none" stroke="#77ac30" stroke-width="3.3" stroke-linejoin="round" stroke-linecap="butt"/>
<text x="1737" y="1344.2" font-size="34" textLength="128.5" lengthAdjust="spacingAndGlyphs" fill="#000000">Overhang</text>
<text x="1737" y="1382.9" font-size="34" textLength="177.5" lengthAdjust="spacingAndGlyphs" fill="#000000">No Overhang</text>
<text x="1511.2" y="1175.8" font-size="34" textLength="449" lengthAdjust="spacingAndGlyphs" fill="#1a1a1a">g) Min(Φ<tspan font-style="italic" font-size="24.5" dy="6.1">s</tspan><tspan dy="-6.1"> - Φ</tspan><tspan font-style="italic" font-size="24.5" dy="6.1">l</tspan><tspan dy="-6.1">) - Center(Φ</tspan><tspan font-style="italic" font-size="24.5" dy="6.1">s</tspan><tspan dy="-6.1"> - Φ</tspan><tspan font-style="italic" font-size="24.5" dy="6.1">l</tspan><tspan dy="-6.1">)</tspan></text>
<text x="1375.4" y="1421.75" font-size="34" text-anchor="middle" textLength="478" lengthAdjust="spacingAndGlyphs" transform="rotate(-90 1375.4 1421.75)" fill="#1a1a1a">Anode Pot. Diff. ΔΦ<tspan font-size="22.5" dy="5.6">Min/Center</tspan><tspan dy="-5.6"> / mV</tspan></text>
</svg>
</body></html>
